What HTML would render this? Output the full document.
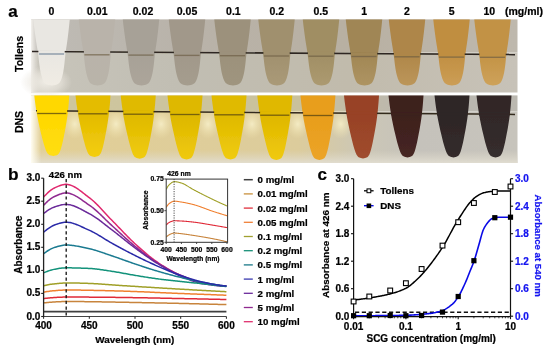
<!DOCTYPE html>
<html><head><meta charset="utf-8"><style>
html,body{margin:0;padding:0;background:#fff;width:550px;height:352px;overflow:hidden}
svg{will-change:transform}
svg{display:block}
text{font-family:"Liberation Sans", sans-serif;font-weight:bold;stroke-width:0.22px}
</style></head><body>
<svg width="550" height="352" viewBox="0 0 550 352" font-family='"Liberation Sans", sans-serif' font-weight="bold">
<defs><filter id="soft2" x="-2%" y="-50%" width="104%" height="200%"><feGaussianBlur stdDeviation="0.35"/></filter><filter id="soft" x="-2%" y="-5%" width="104%" height="110%"><feGaussianBlur stdDeviation="0.6"/></filter><linearGradient id="tbgT" x1="0" y1="0" x2="1" y2="0"><stop offset="0" stop-color="#bfbcb6"/><stop offset="0.3" stop-color="#b9b3aa"/><stop offset="0.65" stop-color="#b8b0a2"/><stop offset="1" stop-color="#beb8ad"/></linearGradient><linearGradient id="tbgB" x1="0" y1="0" x2="1" y2="0"><stop offset="0" stop-color="#c8c5bb"/><stop offset="0.3" stop-color="#c1beb3"/><stop offset="0.65" stop-color="#c1bbac"/><stop offset="1" stop-color="#c7c2b8"/></linearGradient><linearGradient id="tbgL" x1="0" y1="0" x2="1" y2="0"><stop offset="0" stop-color="#f4f2ee" stop-opacity="1"/><stop offset="1" stop-color="#e8e4de" stop-opacity="0"/></linearGradient><radialGradient id="wglow" cx="0.5" cy="0.5" r="0.5"><stop offset="0" stop-color="#f2efe8" stop-opacity="0.95"/><stop offset="0.6" stop-color="#ece8e0" stop-opacity="0.6"/><stop offset="1" stop-color="#e8e4dc" stop-opacity="0"/></radialGradient><linearGradient id="tg0" x1="0" y1="0" x2="0" y2="1"><stop offset="0" stop-color="#e9e7e2"/><stop offset="0.5" stop-color="#e9e7e2"/><stop offset="1" stop-color="#f0ece4"/></linearGradient><linearGradient id="tg1" x1="0" y1="0" x2="0" y2="1"><stop offset="0" stop-color="#b9b3aa"/><stop offset="0.5" stop-color="#b9b3aa"/><stop offset="1" stop-color="#b9b4a9"/></linearGradient><linearGradient id="tg2" x1="0" y1="0" x2="0" y2="1"><stop offset="0" stop-color="#a7a197"/><stop offset="0.5" stop-color="#a7a197"/><stop offset="1" stop-color="#aca59a"/></linearGradient><linearGradient id="tg3" x1="0" y1="0" x2="0" y2="1"><stop offset="0" stop-color="#a1988a"/><stop offset="0.5" stop-color="#a1988a"/><stop offset="1" stop-color="#a59d8e"/></linearGradient><linearGradient id="tg4" x1="0" y1="0" x2="0" y2="1"><stop offset="0" stop-color="#9c917b"/><stop offset="0.5" stop-color="#9c917b"/><stop offset="1" stop-color="#9f957f"/></linearGradient><linearGradient id="tg5" x1="0" y1="0" x2="0" y2="1"><stop offset="0" stop-color="#a0906e"/><stop offset="0.5" stop-color="#a0906e"/><stop offset="1" stop-color="#aa9a78"/></linearGradient><linearGradient id="tg6" x1="0" y1="0" x2="0" y2="1"><stop offset="0" stop-color="#a08e64"/><stop offset="0.5" stop-color="#a08e64"/><stop offset="1" stop-color="#ac9a70"/></linearGradient><linearGradient id="tg7" x1="0" y1="0" x2="0" y2="1"><stop offset="0" stop-color="#a08654"/><stop offset="0.5" stop-color="#a08654"/><stop offset="1" stop-color="#ae9462"/></linearGradient><linearGradient id="tg8" x1="0" y1="0" x2="0" y2="1"><stop offset="0" stop-color="#ae8648"/><stop offset="0.5" stop-color="#ae8648"/><stop offset="1" stop-color="#bc965a"/></linearGradient><linearGradient id="tg9" x1="0" y1="0" x2="0" y2="1"><stop offset="0" stop-color="#c08e40"/><stop offset="0.5" stop-color="#c08e40"/><stop offset="1" stop-color="#cc9e56"/></linearGradient><linearGradient id="tg10" x1="0" y1="0" x2="0" y2="1"><stop offset="0" stop-color="#c29244"/><stop offset="0.5" stop-color="#c29244"/><stop offset="1" stop-color="#cea25a"/></linearGradient><linearGradient id="dbgT" x1="0" y1="0" x2="1" y2="0"><stop offset="0" stop-color="#cfc79f"/><stop offset="0.55" stop-color="#c9c19c"/><stop offset="0.68" stop-color="#c1bba9"/><stop offset="0.8" stop-color="#b9b6af"/><stop offset="1" stop-color="#bbb8b0"/></linearGradient><linearGradient id="dbgB" x1="0" y1="0" x2="1" y2="0"><stop offset="0" stop-color="#e2cf97"/><stop offset="0.55" stop-color="#dccc9c"/><stop offset="0.68" stop-color="#ccc7b6"/><stop offset="0.8" stop-color="#c5c2bb"/><stop offset="1" stop-color="#c7c4bc"/></linearGradient><linearGradient id="dbgS" x1="0" y1="0" x2="0" y2="1"><stop offset="0" stop-color="#dcd7c7" stop-opacity="0"/><stop offset="1" stop-color="#e3dfd3" stop-opacity="0.9"/></linearGradient><radialGradient id="glow" cx="0.5" cy="0.5" r="0.5"><stop offset="0" stop-color="#f6eec8" stop-opacity="0.9"/><stop offset="1" stop-color="#f1e4b0" stop-opacity="0"/></radialGradient><linearGradient id="dbgL" x1="0" y1="0" x2="1" y2="0"><stop offset="0" stop-color="#fffdf2" stop-opacity="1"/><stop offset="1" stop-color="#fffdf2" stop-opacity="0"/></linearGradient><linearGradient id="dg0" x1="0" y1="0" x2="0" y2="1"><stop offset="0" stop-color="#ffd800"/><stop offset="0.35" stop-color="#ffd800"/><stop offset="1" stop-color="#ffde14"/></linearGradient><linearGradient id="dg1" x1="0" y1="0" x2="0" y2="1"><stop offset="0" stop-color="#e4bc00"/><stop offset="0.35" stop-color="#e4bc00"/><stop offset="1" stop-color="#f4ce10"/></linearGradient><linearGradient id="dg2" x1="0" y1="0" x2="0" y2="1"><stop offset="0" stop-color="#e0ba00"/><stop offset="0.35" stop-color="#e0ba00"/><stop offset="1" stop-color="#f0cc0e"/></linearGradient><linearGradient id="dg3" x1="0" y1="0" x2="0" y2="1"><stop offset="0" stop-color="#deb800"/><stop offset="0.35" stop-color="#deb800"/><stop offset="1" stop-color="#f0ca0e"/></linearGradient><linearGradient id="dg4" x1="0" y1="0" x2="0" y2="1"><stop offset="0" stop-color="#e0ba00"/><stop offset="0.35" stop-color="#e0ba00"/><stop offset="1" stop-color="#f0cc0e"/></linearGradient><linearGradient id="dg5" x1="0" y1="0" x2="0" y2="1"><stop offset="0" stop-color="#e0b800"/><stop offset="0.35" stop-color="#e0b800"/><stop offset="1" stop-color="#f0ca0e"/></linearGradient><linearGradient id="dg6" x1="0" y1="0" x2="0" y2="1"><stop offset="0" stop-color="#e89e1c"/><stop offset="0.35" stop-color="#e89e1c"/><stop offset="1" stop-color="#eca428"/></linearGradient><linearGradient id="dg7" x1="0" y1="0" x2="0" y2="1"><stop offset="0" stop-color="#984226"/><stop offset="0.35" stop-color="#984226"/><stop offset="1" stop-color="#a04c2e"/></linearGradient><linearGradient id="dg8" x1="0" y1="0" x2="0" y2="1"><stop offset="0" stop-color="#3e201e"/><stop offset="0.35" stop-color="#3e201e"/><stop offset="1" stop-color="#462622"/></linearGradient><linearGradient id="dg9" x1="0" y1="0" x2="0" y2="1"><stop offset="0" stop-color="#2e2626"/><stop offset="0.35" stop-color="#2e2626"/><stop offset="1" stop-color="#342c2c"/></linearGradient><linearGradient id="dg10" x1="0" y1="0" x2="0" y2="1"><stop offset="0" stop-color="#302828"/><stop offset="0.35" stop-color="#302828"/><stop offset="1" stop-color="#362e2e"/></linearGradient></defs>
<rect width="550" height="352" fill="#fff"/>
<g filter="url(#soft)"><rect x="31" y="19.4" width="486.5" height="33" fill="url(#tbgT)"/><rect x="31" y="52.4" width="486.5" height="40.1" fill="url(#tbgB)"/><rect x="31" y="19.4" width="8" height="73.1" fill="url(#tbgL)"/><ellipse cx="46" cy="82" rx="26" ry="16" fill="url(#wglow)"/><path d="M69.75,19.40 L69.44,22.53 L69.12,25.66 L68.78,28.79 L68.42,31.92 L68.05,35.06 L67.66,38.19 L67.25,41.32 L66.80,44.45 L66.32,47.58 L65.86,50.71 L65.44,53.84 L65.08,56.97 L64.77,60.10 L64.46,63.23 L64.10,66.37 L63.65,69.50 L63.10,72.63 L62.38,75.76 L61.44,78.89 L61.27,79.36 L61.09,79.83 L60.89,80.31 L60.66,80.78 L60.41,81.25 L60.12,81.72 L59.80,82.19 L59.44,82.67 L59.03,83.14 L58.53,83.61 L57.85,84.08 L56.91,84.56 L55.38,85.03 L52.00,85.50 L52.00,85.50 L48.61,85.03 L47.07,84.56 L46.13,84.08 L45.45,83.61 L44.94,83.14 L44.52,82.67 L44.15,82.19 L43.82,81.72 L43.53,81.25 L43.27,80.78 L43.04,80.31 L42.83,79.83 L42.64,79.36 L42.46,78.89 L41.47,75.76 L40.71,72.63 L40.10,69.50 L39.61,66.37 L39.20,63.23 L38.84,60.10 L38.48,56.97 L38.08,53.84 L37.61,50.71 L37.10,47.58 L36.58,44.45 L36.08,41.32 L35.63,38.19 L35.19,35.06 L34.77,31.92 L34.36,28.79 L33.97,25.66 L33.60,22.53 L33.25,19.40 Z" fill="url(#tg0)"/><path d="M115.25,19.40 L114.94,22.53 L114.62,25.66 L114.28,28.79 L113.92,31.92 L113.55,35.06 L113.16,38.19 L112.75,41.32 L112.30,44.45 L111.82,47.58 L111.36,50.71 L110.94,53.84 L110.58,56.97 L110.27,60.10 L109.96,63.23 L109.60,66.37 L109.15,69.50 L108.60,72.63 L107.88,75.76 L106.94,78.89 L106.77,79.36 L106.59,79.83 L106.39,80.31 L106.16,80.78 L105.91,81.25 L105.62,81.72 L105.30,82.19 L104.94,82.67 L104.53,83.14 L104.03,83.61 L103.35,84.08 L102.41,84.56 L100.88,85.03 L97.50,85.50 L97.50,85.50 L94.11,85.03 L92.57,84.56 L91.63,84.08 L90.95,83.61 L90.44,83.14 L90.02,82.67 L89.65,82.19 L89.32,81.72 L89.03,81.25 L88.77,80.78 L88.54,80.31 L88.33,79.83 L88.14,79.36 L87.96,78.89 L86.97,75.76 L86.21,72.63 L85.60,69.50 L85.11,66.37 L84.70,63.23 L84.34,60.10 L83.98,56.97 L83.58,53.84 L83.11,50.71 L82.60,47.58 L82.08,44.45 L81.58,41.32 L81.13,38.19 L80.69,35.06 L80.27,31.92 L79.86,28.79 L79.47,25.66 L79.10,22.53 L78.75,19.40 Z" fill="url(#tg1)"/><path d="M159.25,19.40 L158.94,22.53 L158.62,25.66 L158.28,28.79 L157.92,31.92 L157.55,35.06 L157.16,38.19 L156.75,41.32 L156.30,44.45 L155.82,47.58 L155.36,50.71 L154.94,53.84 L154.58,56.97 L154.27,60.10 L153.96,63.23 L153.60,66.37 L153.15,69.50 L152.60,72.63 L151.88,75.76 L150.94,78.89 L150.77,79.36 L150.59,79.83 L150.39,80.31 L150.16,80.78 L149.91,81.25 L149.62,81.72 L149.30,82.19 L148.94,82.67 L148.53,83.14 L148.03,83.61 L147.35,84.08 L146.41,84.56 L144.88,85.03 L141.50,85.50 L141.50,85.50 L138.11,85.03 L136.57,84.56 L135.63,84.08 L134.95,83.61 L134.44,83.14 L134.02,82.67 L133.65,82.19 L133.32,81.72 L133.03,81.25 L132.77,80.78 L132.54,80.31 L132.33,79.83 L132.14,79.36 L131.96,78.89 L130.97,75.76 L130.21,72.63 L129.60,69.50 L129.11,66.37 L128.70,63.23 L128.34,60.10 L127.98,56.97 L127.58,53.84 L127.11,50.71 L126.60,47.58 L126.08,44.45 L125.58,41.32 L125.13,38.19 L124.69,35.06 L124.27,31.92 L123.86,28.79 L123.47,25.66 L123.10,22.53 L122.75,19.40 Z" fill="url(#tg2)"/><path d="M205.25,19.40 L204.94,22.53 L204.62,25.66 L204.28,28.79 L203.92,31.92 L203.55,35.06 L203.16,38.19 L202.75,41.32 L202.30,44.45 L201.82,47.58 L201.36,50.71 L200.94,53.84 L200.58,56.97 L200.27,60.10 L199.96,63.23 L199.60,66.37 L199.15,69.50 L198.60,72.63 L197.88,75.76 L196.94,78.89 L196.77,79.36 L196.59,79.83 L196.39,80.31 L196.16,80.78 L195.91,81.25 L195.62,81.72 L195.30,82.19 L194.94,82.67 L194.53,83.14 L194.03,83.61 L193.35,84.08 L192.41,84.56 L190.88,85.03 L187.50,85.50 L187.50,85.50 L184.11,85.03 L182.57,84.56 L181.63,84.08 L180.95,83.61 L180.44,83.14 L180.02,82.67 L179.65,82.19 L179.32,81.72 L179.03,81.25 L178.77,80.78 L178.54,80.31 L178.33,79.83 L178.14,79.36 L177.96,78.89 L176.97,75.76 L176.21,72.63 L175.60,69.50 L175.11,66.37 L174.70,63.23 L174.34,60.10 L173.98,56.97 L173.58,53.84 L173.11,50.71 L172.60,47.58 L172.08,44.45 L171.58,41.32 L171.13,38.19 L170.69,35.06 L170.27,31.92 L169.86,28.79 L169.47,25.66 L169.10,22.53 L168.75,19.40 Z" fill="url(#tg3)"/><path d="M250.75,19.40 L250.44,22.53 L250.12,25.66 L249.78,28.79 L249.42,31.92 L249.05,35.06 L248.66,38.19 L248.25,41.32 L247.80,44.45 L247.32,47.58 L246.86,50.71 L246.44,53.84 L246.08,56.97 L245.77,60.10 L245.46,63.23 L245.10,66.37 L244.65,69.50 L244.10,72.63 L243.38,75.76 L242.44,78.89 L242.27,79.36 L242.09,79.83 L241.89,80.31 L241.66,80.78 L241.41,81.25 L241.12,81.72 L240.80,82.19 L240.44,82.67 L240.03,83.14 L239.53,83.61 L238.85,84.08 L237.91,84.56 L236.38,85.03 L233.00,85.50 L233.00,85.50 L229.61,85.03 L228.07,84.56 L227.13,84.08 L226.45,83.61 L225.94,83.14 L225.52,82.67 L225.15,82.19 L224.82,81.72 L224.53,81.25 L224.27,80.78 L224.04,80.31 L223.83,79.83 L223.64,79.36 L223.46,78.89 L222.47,75.76 L221.71,72.63 L221.10,69.50 L220.61,66.37 L220.20,63.23 L219.84,60.10 L219.48,56.97 L219.08,53.84 L218.61,50.71 L218.10,47.58 L217.58,44.45 L217.08,41.32 L216.63,38.19 L216.19,35.06 L215.77,31.92 L215.36,28.79 L214.97,25.66 L214.60,22.53 L214.25,19.40 Z" fill="url(#tg4)"/><path d="M294.75,19.40 L294.44,22.53 L294.12,25.66 L293.78,28.79 L293.42,31.92 L293.05,35.06 L292.66,38.19 L292.25,41.32 L291.80,44.45 L291.32,47.58 L290.86,50.71 L290.44,53.84 L290.08,56.97 L289.77,60.10 L289.46,63.23 L289.10,66.37 L288.65,69.50 L288.10,72.63 L287.38,75.76 L286.44,78.89 L286.27,79.36 L286.09,79.83 L285.89,80.31 L285.66,80.78 L285.41,81.25 L285.12,81.72 L284.80,82.19 L284.44,82.67 L284.03,83.14 L283.53,83.61 L282.85,84.08 L281.91,84.56 L280.38,85.03 L277.00,85.50 L277.00,85.50 L273.61,85.03 L272.07,84.56 L271.13,84.08 L270.45,83.61 L269.94,83.14 L269.52,82.67 L269.15,82.19 L268.82,81.72 L268.53,81.25 L268.27,80.78 L268.04,80.31 L267.83,79.83 L267.64,79.36 L267.46,78.89 L266.47,75.76 L265.71,72.63 L265.10,69.50 L264.61,66.37 L264.20,63.23 L263.84,60.10 L263.48,56.97 L263.08,53.84 L262.61,50.71 L262.10,47.58 L261.58,44.45 L261.08,41.32 L260.63,38.19 L260.19,35.06 L259.77,31.92 L259.36,28.79 L258.97,25.66 L258.60,22.53 L258.25,19.40 Z" fill="url(#tg5)"/><path d="M339.25,19.40 L338.94,22.53 L338.62,25.66 L338.28,28.79 L337.92,31.92 L337.55,35.06 L337.16,38.19 L336.75,41.32 L336.30,44.45 L335.82,47.58 L335.36,50.71 L334.94,53.84 L334.58,56.97 L334.27,60.10 L333.96,63.23 L333.60,66.37 L333.15,69.50 L332.60,72.63 L331.88,75.76 L330.94,78.89 L330.77,79.36 L330.59,79.83 L330.39,80.31 L330.16,80.78 L329.91,81.25 L329.62,81.72 L329.30,82.19 L328.94,82.67 L328.53,83.14 L328.03,83.61 L327.35,84.08 L326.41,84.56 L324.88,85.03 L321.50,85.50 L321.50,85.50 L318.11,85.03 L316.57,84.56 L315.63,84.08 L314.95,83.61 L314.44,83.14 L314.02,82.67 L313.65,82.19 L313.32,81.72 L313.03,81.25 L312.77,80.78 L312.54,80.31 L312.33,79.83 L312.14,79.36 L311.96,78.89 L310.97,75.76 L310.21,72.63 L309.60,69.50 L309.11,66.37 L308.70,63.23 L308.34,60.10 L307.98,56.97 L307.58,53.84 L307.11,50.71 L306.60,47.58 L306.08,44.45 L305.58,41.32 L305.13,38.19 L304.69,35.06 L304.27,31.92 L303.86,28.79 L303.47,25.66 L303.10,22.53 L302.75,19.40 Z" fill="url(#tg6)"/><path d="M382.25,19.40 L381.94,22.53 L381.62,25.66 L381.28,28.79 L380.92,31.92 L380.55,35.06 L380.16,38.19 L379.75,41.32 L379.30,44.45 L378.82,47.58 L378.36,50.71 L377.94,53.84 L377.58,56.97 L377.27,60.10 L376.96,63.23 L376.60,66.37 L376.15,69.50 L375.60,72.63 L374.88,75.76 L373.94,78.89 L373.77,79.36 L373.59,79.83 L373.39,80.31 L373.16,80.78 L372.91,81.25 L372.62,81.72 L372.30,82.19 L371.94,82.67 L371.53,83.14 L371.03,83.61 L370.35,84.08 L369.41,84.56 L367.88,85.03 L364.50,85.50 L364.50,85.50 L361.11,85.03 L359.57,84.56 L358.63,84.08 L357.95,83.61 L357.44,83.14 L357.02,82.67 L356.65,82.19 L356.32,81.72 L356.03,81.25 L355.77,80.78 L355.54,80.31 L355.33,79.83 L355.14,79.36 L354.96,78.89 L353.97,75.76 L353.21,72.63 L352.60,69.50 L352.11,66.37 L351.70,63.23 L351.34,60.10 L350.98,56.97 L350.58,53.84 L350.11,50.71 L349.60,47.58 L349.08,44.45 L348.58,41.32 L348.13,38.19 L347.69,35.06 L347.27,31.92 L346.86,28.79 L346.47,25.66 L346.10,22.53 L345.75,19.40 Z" fill="url(#tg7)"/><path d="M425.25,19.40 L424.94,22.53 L424.62,25.66 L424.28,28.79 L423.92,31.92 L423.55,35.06 L423.16,38.19 L422.75,41.32 L422.30,44.45 L421.82,47.58 L421.36,50.71 L420.94,53.84 L420.58,56.97 L420.27,60.10 L419.96,63.23 L419.60,66.37 L419.15,69.50 L418.60,72.63 L417.88,75.76 L416.94,78.89 L416.77,79.36 L416.59,79.83 L416.39,80.31 L416.16,80.78 L415.91,81.25 L415.62,81.72 L415.30,82.19 L414.94,82.67 L414.53,83.14 L414.03,83.61 L413.35,84.08 L412.41,84.56 L410.88,85.03 L407.50,85.50 L407.50,85.50 L404.11,85.03 L402.57,84.56 L401.63,84.08 L400.95,83.61 L400.44,83.14 L400.02,82.67 L399.65,82.19 L399.32,81.72 L399.03,81.25 L398.77,80.78 L398.54,80.31 L398.33,79.83 L398.14,79.36 L397.96,78.89 L396.97,75.76 L396.21,72.63 L395.60,69.50 L395.11,66.37 L394.70,63.23 L394.34,60.10 L393.98,56.97 L393.58,53.84 L393.11,50.71 L392.60,47.58 L392.08,44.45 L391.58,41.32 L391.13,38.19 L390.69,35.06 L390.27,31.92 L389.86,28.79 L389.47,25.66 L389.10,22.53 L388.75,19.40 Z" fill="url(#tg8)"/><path d="M469.75,19.40 L469.44,22.53 L469.12,25.66 L468.78,28.79 L468.42,31.92 L468.05,35.06 L467.66,38.19 L467.25,41.32 L466.80,44.45 L466.32,47.58 L465.86,50.71 L465.44,53.84 L465.08,56.97 L464.77,60.10 L464.46,63.23 L464.10,66.37 L463.65,69.50 L463.10,72.63 L462.38,75.76 L461.44,78.89 L461.27,79.36 L461.09,79.83 L460.89,80.31 L460.66,80.78 L460.41,81.25 L460.12,81.72 L459.80,82.19 L459.44,82.67 L459.03,83.14 L458.53,83.61 L457.85,84.08 L456.91,84.56 L455.38,85.03 L452.00,85.50 L452.00,85.50 L448.61,85.03 L447.07,84.56 L446.13,84.08 L445.45,83.61 L444.94,83.14 L444.52,82.67 L444.15,82.19 L443.82,81.72 L443.53,81.25 L443.27,80.78 L443.04,80.31 L442.83,79.83 L442.64,79.36 L442.46,78.89 L441.47,75.76 L440.71,72.63 L440.10,69.50 L439.61,66.37 L439.20,63.23 L438.84,60.10 L438.48,56.97 L438.08,53.84 L437.61,50.71 L437.10,47.58 L436.58,44.45 L436.08,41.32 L435.63,38.19 L435.19,35.06 L434.77,31.92 L434.36,28.79 L433.97,25.66 L433.60,22.53 L433.25,19.40 Z" fill="url(#tg9)"/><path d="M510.75,19.40 L510.44,22.53 L510.12,25.66 L509.78,28.79 L509.42,31.92 L509.05,35.06 L508.66,38.19 L508.25,41.32 L507.80,44.45 L507.32,47.58 L506.86,50.71 L506.44,53.84 L506.08,56.97 L505.77,60.10 L505.46,63.23 L505.10,66.37 L504.65,69.50 L504.10,72.63 L503.38,75.76 L502.44,78.89 L502.27,79.36 L502.09,79.83 L501.89,80.31 L501.66,80.78 L501.41,81.25 L501.12,81.72 L500.80,82.19 L500.44,82.67 L500.03,83.14 L499.53,83.61 L498.85,84.08 L497.91,84.56 L496.38,85.03 L493.00,85.50 L493.00,85.50 L489.61,85.03 L488.07,84.56 L487.13,84.08 L486.45,83.61 L485.94,83.14 L485.52,82.67 L485.15,82.19 L484.82,81.72 L484.53,81.25 L484.27,80.78 L484.04,80.31 L483.83,79.83 L483.64,79.36 L483.46,78.89 L482.47,75.76 L481.71,72.63 L481.10,69.50 L480.61,66.37 L480.20,63.23 L479.84,60.10 L479.48,56.97 L479.08,53.84 L478.61,50.71 L478.10,47.58 L477.58,44.45 L477.08,41.32 L476.63,38.19 L476.19,35.06 L475.77,31.92 L475.36,28.79 L474.97,25.66 L474.60,22.53 L474.25,19.40 Z" fill="url(#tg10)"/><rect x="31" y="95.4" width="486.5" height="16" fill="url(#dbgT)"/><rect x="31" y="111.4" width="486.5" height="51.6" fill="url(#dbgB)"/><rect x="31" y="150" width="486.5" height="13" fill="url(#dbgS)"/><ellipse cx="74.8" cy="124" rx="12" ry="15" fill="url(#glow)"/><ellipse cx="116.0" cy="124" rx="12" ry="15" fill="url(#glow)"/><ellipse cx="161.2" cy="124" rx="12" ry="15" fill="url(#glow)"/><ellipse cx="208.0" cy="124" rx="12" ry="15" fill="url(#glow)"/><ellipse cx="252.0" cy="124" rx="12" ry="15" fill="url(#glow)"/><ellipse cx="297.8" cy="124" rx="12" ry="15" fill="url(#glow)"/><ellipse cx="340.9" cy="124" rx="12" ry="15" fill="url(#glow)"/><rect x="31" y="95.4" width="10" height="67.6" fill="url(#dbgL)"/><path d="M69.30,95.40 L69.12,98.27 L68.91,101.14 L68.67,104.01 L68.40,106.88 L68.11,109.75 L67.79,112.62 L67.44,115.49 L67.05,118.36 L66.62,121.23 L66.16,124.11 L65.66,126.98 L65.13,129.85 L64.58,132.72 L64.01,135.59 L63.43,138.46 L62.83,141.33 L62.17,144.20 L61.41,147.07 L60.53,149.94 L60.38,150.37 L60.23,150.81 L60.05,151.24 L59.87,151.67 L59.66,152.10 L59.43,152.54 L59.17,152.97 L58.89,153.40 L58.56,153.84 L58.13,154.27 L57.58,154.70 L56.87,155.13 L55.38,155.57 L53.30,156.00 L53.30,156.00 L51.20,155.57 L49.69,155.13 L48.95,154.70 L48.38,154.27 L47.94,153.84 L47.58,153.40 L47.27,152.97 L47.00,152.54 L46.75,152.10 L46.52,151.67 L46.31,151.24 L46.12,150.81 L45.94,150.37 L45.77,149.94 L44.74,147.07 L43.84,144.20 L43.04,141.33 L42.30,138.46 L41.58,135.59 L40.87,132.72 L40.17,129.85 L39.51,126.98 L38.86,124.11 L38.26,121.23 L37.68,118.36 L37.15,115.49 L36.67,112.62 L36.20,109.75 L35.77,106.88 L35.35,104.01 L34.97,101.14 L34.62,98.27 L34.30,95.40 Z" fill="url(#dg0)"/><path d="M110.50,95.40 L110.32,98.32 L110.11,101.24 L109.87,104.15 L109.60,107.07 L109.31,109.99 L108.99,112.91 L108.64,115.83 L108.25,118.74 L107.82,121.66 L107.36,124.58 L106.86,127.50 L106.33,130.41 L105.78,133.33 L105.21,136.25 L104.63,139.17 L104.03,142.09 L103.37,145.00 L102.61,147.92 L101.73,150.84 L101.58,151.28 L101.43,151.72 L101.25,152.16 L101.07,152.60 L100.86,153.04 L100.63,153.48 L100.38,153.92 L100.09,154.36 L99.76,154.80 L99.33,155.24 L98.78,155.68 L98.07,156.12 L96.58,156.56 L94.50,157.00 L94.50,157.00 L92.40,156.56 L90.89,156.12 L90.15,155.68 L89.58,155.24 L89.14,154.80 L88.78,154.36 L88.47,153.92 L88.20,153.48 L87.95,153.04 L87.72,152.60 L87.51,152.16 L87.32,151.72 L87.14,151.28 L86.97,150.84 L85.94,147.92 L85.04,145.00 L84.24,142.09 L83.50,139.17 L82.78,136.25 L82.07,133.33 L81.37,130.41 L80.71,127.50 L80.06,124.58 L79.46,121.66 L78.88,118.74 L78.35,115.83 L77.87,112.91 L77.40,109.99 L76.97,107.07 L76.55,104.15 L76.17,101.24 L75.82,98.32 L75.50,95.40 Z" fill="url(#dg1)"/><path d="M155.70,95.40 L155.52,98.40 L155.31,101.40 L155.07,104.40 L154.80,107.39 L154.51,110.39 L154.19,113.39 L153.84,116.39 L153.45,119.39 L153.02,122.39 L152.56,125.38 L152.06,128.38 L151.53,131.38 L150.98,134.38 L150.41,137.38 L149.83,140.38 L149.23,143.37 L148.57,146.37 L147.81,149.37 L146.93,152.37 L146.78,152.82 L146.63,153.27 L146.45,153.73 L146.27,154.18 L146.06,154.63 L145.83,155.08 L145.57,155.53 L145.29,155.99 L144.96,156.44 L144.53,156.89 L143.98,157.34 L143.27,157.80 L141.78,158.25 L139.70,158.70 L139.70,158.70 L137.60,158.25 L136.09,157.80 L135.35,157.34 L134.78,156.89 L134.34,156.44 L133.98,155.99 L133.68,155.53 L133.40,155.08 L133.15,154.63 L132.92,154.18 L132.71,153.73 L132.52,153.27 L132.34,152.82 L132.17,152.37 L131.14,149.37 L130.24,146.37 L129.44,143.37 L128.70,140.38 L127.98,137.38 L127.27,134.38 L126.57,131.38 L125.91,128.38 L125.26,125.38 L124.66,122.39 L124.08,119.39 L123.55,116.39 L123.07,113.39 L122.60,110.39 L122.17,107.39 L121.75,104.40 L121.37,101.40 L121.02,98.40 L120.70,95.40 Z" fill="url(#dg2)"/><path d="M202.50,95.40 L202.32,98.44 L202.11,101.47 L201.87,104.51 L201.60,107.55 L201.31,110.58 L200.99,113.62 L200.64,116.65 L200.25,119.69 L199.82,122.73 L199.36,125.76 L198.86,128.80 L198.33,131.84 L197.78,134.87 L197.21,137.91 L196.63,140.94 L196.03,143.98 L195.37,147.02 L194.61,150.05 L193.73,153.09 L193.58,153.55 L193.43,154.01 L193.25,154.46 L193.07,154.92 L192.86,155.38 L192.63,155.84 L192.38,156.29 L192.09,156.75 L191.76,157.21 L191.33,157.67 L190.78,158.13 L190.07,158.58 L188.58,159.04 L186.50,159.50 L186.50,159.50 L184.40,159.04 L182.89,158.58 L182.15,158.13 L181.58,157.67 L181.14,157.21 L180.78,156.75 L180.48,156.29 L180.20,155.84 L179.95,155.38 L179.72,154.92 L179.51,154.46 L179.32,154.01 L179.14,153.55 L178.97,153.09 L177.94,150.05 L177.04,147.02 L176.24,143.98 L175.50,140.94 L174.78,137.91 L174.07,134.87 L173.37,131.84 L172.71,128.80 L172.06,125.76 L171.46,122.73 L170.88,119.69 L170.35,116.65 L169.87,113.62 L169.40,110.58 L168.97,107.55 L168.55,104.51 L168.17,101.47 L167.82,98.44 L167.50,95.40 Z" fill="url(#dg3)"/><path d="M246.50,95.40 L246.32,98.44 L246.11,101.47 L245.87,104.51 L245.60,107.55 L245.31,110.58 L244.99,113.62 L244.64,116.65 L244.25,119.69 L243.82,122.73 L243.36,125.76 L242.86,128.80 L242.33,131.84 L241.78,134.87 L241.21,137.91 L240.63,140.94 L240.03,143.98 L239.37,147.02 L238.61,150.05 L237.73,153.09 L237.58,153.55 L237.43,154.01 L237.25,154.46 L237.07,154.92 L236.86,155.38 L236.63,155.84 L236.38,156.29 L236.09,156.75 L235.76,157.21 L235.33,157.67 L234.78,158.13 L234.07,158.58 L232.58,159.04 L230.50,159.50 L230.50,159.50 L228.40,159.04 L226.89,158.58 L226.15,158.13 L225.58,157.67 L225.14,157.21 L224.78,156.75 L224.48,156.29 L224.20,155.84 L223.95,155.38 L223.72,154.92 L223.51,154.46 L223.32,154.01 L223.14,153.55 L222.97,153.09 L221.94,150.05 L221.04,147.02 L220.24,143.98 L219.50,140.94 L218.78,137.91 L218.07,134.87 L217.37,131.84 L216.71,128.80 L216.06,125.76 L215.46,122.73 L214.88,119.69 L214.35,116.65 L213.87,113.62 L213.40,110.58 L212.97,107.55 L212.55,104.51 L212.17,101.47 L211.82,98.44 L211.50,95.40 Z" fill="url(#dg4)"/><path d="M292.30,95.40 L292.12,98.46 L291.91,101.52 L291.67,104.58 L291.40,107.64 L291.11,110.70 L290.79,113.76 L290.44,116.82 L290.05,119.88 L289.62,122.94 L289.16,126.00 L288.66,129.06 L288.13,132.12 L287.58,135.18 L287.01,138.24 L286.43,141.30 L285.83,144.36 L285.17,147.42 L284.41,150.48 L283.53,153.54 L283.38,154.00 L283.23,154.46 L283.05,154.92 L282.87,155.39 L282.66,155.85 L282.43,156.31 L282.18,156.77 L281.89,157.23 L281.56,157.69 L281.13,158.15 L280.58,158.62 L279.87,159.08 L278.38,159.54 L276.30,160.00 L276.30,160.00 L274.20,159.54 L272.69,159.08 L271.95,158.62 L271.38,158.15 L270.94,157.69 L270.58,157.23 L270.28,156.77 L270.00,156.31 L269.75,155.85 L269.52,155.39 L269.31,154.92 L269.12,154.46 L268.94,154.00 L268.77,153.54 L267.74,150.48 L266.84,147.42 L266.04,144.36 L265.30,141.30 L264.58,138.24 L263.87,135.18 L263.17,132.12 L262.51,129.06 L261.86,126.00 L261.26,122.94 L260.68,119.88 L260.15,116.82 L259.67,113.76 L259.20,110.70 L258.77,107.64 L258.35,104.58 L257.97,101.52 L257.62,98.46 L257.30,95.40 Z" fill="url(#dg5)"/><path d="M335.40,95.40 L335.22,98.46 L335.01,101.52 L334.77,104.58 L334.50,107.64 L334.21,110.70 L333.89,113.76 L333.54,116.82 L333.15,119.88 L332.72,122.94 L332.26,126.00 L331.76,129.06 L331.23,132.12 L330.68,135.18 L330.11,138.24 L329.53,141.30 L328.93,144.36 L328.27,147.42 L327.51,150.48 L326.63,153.54 L326.48,154.00 L326.33,154.46 L326.15,154.92 L325.97,155.39 L325.76,155.85 L325.53,156.31 L325.27,156.77 L324.99,157.23 L324.66,157.69 L324.23,158.15 L323.68,158.62 L322.97,159.08 L321.48,159.54 L319.40,160.00 L319.40,160.00 L317.30,159.54 L315.79,159.08 L315.05,158.62 L314.48,158.15 L314.04,157.69 L313.68,157.23 L313.38,156.77 L313.10,156.31 L312.85,155.85 L312.62,155.39 L312.41,154.92 L312.22,154.46 L312.04,154.00 L311.87,153.54 L310.84,150.48 L309.94,147.42 L309.14,144.36 L308.40,141.30 L307.68,138.24 L306.97,135.18 L306.27,132.12 L305.61,129.06 L304.96,126.00 L304.36,122.94 L303.78,119.88 L303.25,116.82 L302.77,113.76 L302.30,110.70 L301.87,107.64 L301.45,104.58 L301.07,101.52 L300.72,98.46 L300.40,95.40 Z" fill="url(#dg6)"/><path d="M379.00,95.40 L378.82,98.39 L378.61,101.38 L378.37,104.37 L378.10,107.36 L377.81,110.34 L377.49,113.33 L377.14,116.32 L376.75,119.31 L376.32,122.30 L375.86,125.29 L375.36,128.28 L374.83,131.27 L374.28,134.26 L373.71,137.25 L373.13,140.23 L372.53,143.22 L371.87,146.21 L371.11,149.20 L370.23,152.19 L370.08,152.64 L369.93,153.09 L369.75,153.54 L369.57,153.99 L369.36,154.44 L369.13,154.89 L368.88,155.34 L368.59,155.80 L368.26,156.25 L367.83,156.70 L367.28,157.15 L366.57,157.60 L365.08,158.05 L363.00,158.50 L363.00,158.50 L360.90,158.05 L359.39,157.60 L358.65,157.15 L358.08,156.70 L357.64,156.25 L357.28,155.80 L356.98,155.34 L356.70,154.89 L356.45,154.44 L356.22,153.99 L356.01,153.54 L355.82,153.09 L355.64,152.64 L355.47,152.19 L354.44,149.20 L353.54,146.21 L352.74,143.22 L352.00,140.23 L351.28,137.25 L350.57,134.26 L349.87,131.27 L349.21,128.28 L348.56,125.29 L347.96,122.30 L347.38,119.31 L346.85,116.32 L346.37,113.33 L345.90,110.34 L345.47,107.36 L345.05,104.37 L344.67,101.38 L344.32,98.39 L344.00,95.40 Z" fill="url(#dg7)"/><path d="M423.50,95.40 L423.32,98.34 L423.11,101.27 L422.87,104.21 L422.60,107.15 L422.31,110.08 L421.99,113.02 L421.64,115.96 L421.25,118.89 L420.82,121.83 L420.36,124.77 L419.86,127.71 L419.33,130.64 L418.78,133.58 L418.21,136.52 L417.63,139.45 L417.03,142.39 L416.37,145.33 L415.61,148.26 L414.73,151.20 L414.58,151.64 L414.43,152.09 L414.25,152.53 L414.07,152.97 L413.86,153.41 L413.63,153.86 L413.38,154.30 L413.09,154.74 L412.76,155.19 L412.33,155.63 L411.78,156.07 L411.07,156.51 L409.58,156.96 L407.50,157.40 L407.50,157.40 L405.40,156.96 L403.89,156.51 L403.15,156.07 L402.58,155.63 L402.14,155.19 L401.78,154.74 L401.48,154.30 L401.20,153.86 L400.95,153.41 L400.72,152.97 L400.51,152.53 L400.32,152.09 L400.14,151.64 L399.97,151.20 L398.94,148.26 L398.04,145.33 L397.24,142.39 L396.50,139.45 L395.78,136.52 L395.07,133.58 L394.37,130.64 L393.71,127.71 L393.06,124.77 L392.46,121.83 L391.88,118.89 L391.35,115.96 L390.87,113.02 L390.40,110.08 L389.97,107.15 L389.55,104.21 L389.17,101.27 L388.82,98.34 L388.50,95.40 Z" fill="url(#dg8)"/><path d="M469.50,95.40 L469.32,98.34 L469.11,101.27 L468.87,104.21 L468.60,107.15 L468.31,110.08 L467.99,113.02 L467.64,115.96 L467.25,118.89 L466.82,121.83 L466.36,124.77 L465.86,127.71 L465.33,130.64 L464.78,133.58 L464.21,136.52 L463.63,139.45 L463.03,142.39 L462.37,145.33 L461.61,148.26 L460.73,151.20 L460.58,151.64 L460.43,152.09 L460.25,152.53 L460.07,152.97 L459.86,153.41 L459.63,153.86 L459.38,154.30 L459.09,154.74 L458.76,155.19 L458.33,155.63 L457.78,156.07 L457.07,156.51 L455.58,156.96 L453.50,157.40 L453.50,157.40 L451.40,156.96 L449.89,156.51 L449.15,156.07 L448.58,155.63 L448.14,155.19 L447.78,154.74 L447.48,154.30 L447.20,153.86 L446.95,153.41 L446.72,152.97 L446.51,152.53 L446.32,152.09 L446.14,151.64 L445.97,151.20 L444.94,148.26 L444.04,145.33 L443.24,142.39 L442.50,139.45 L441.78,136.52 L441.07,133.58 L440.37,130.64 L439.71,127.71 L439.06,124.77 L438.46,121.83 L437.88,118.89 L437.35,115.96 L436.87,113.02 L436.40,110.08 L435.97,107.15 L435.55,104.21 L435.17,101.27 L434.82,98.34 L434.50,95.40 Z" fill="url(#dg9)"/><path d="M511.50,95.40 L511.32,98.34 L511.11,101.27 L510.87,104.21 L510.60,107.15 L510.31,110.08 L509.99,113.02 L509.64,115.96 L509.25,118.89 L508.82,121.83 L508.36,124.77 L507.86,127.71 L507.33,130.64 L506.78,133.58 L506.21,136.52 L505.63,139.45 L505.03,142.39 L504.37,145.33 L503.61,148.26 L502.73,151.20 L502.58,151.64 L502.43,152.09 L502.25,152.53 L502.07,152.97 L501.86,153.41 L501.63,153.86 L501.38,154.30 L501.09,154.74 L500.76,155.19 L500.33,155.63 L499.78,156.07 L499.07,156.51 L497.58,156.96 L495.50,157.40 L495.50,157.40 L493.40,156.96 L491.89,156.51 L491.15,156.07 L490.58,155.63 L490.14,155.19 L489.78,154.74 L489.48,154.30 L489.20,153.86 L488.95,153.41 L488.72,152.97 L488.51,152.53 L488.32,152.09 L488.14,151.64 L487.97,151.20 L486.94,148.26 L486.04,145.33 L485.24,142.39 L484.50,139.45 L483.78,136.52 L483.07,133.58 L482.37,130.64 L481.71,127.71 L481.06,124.77 L480.46,121.83 L479.88,118.89 L479.35,115.96 L478.87,113.02 L478.40,110.08 L477.97,107.15 L477.55,104.21 L477.17,101.27 L476.82,98.34 L476.50,95.40 Z" fill="url(#dg10)"/></g><g filter="url(#soft2)"><line x1="32" y1="51.50" x2="515" y2="54.59" stroke="#2e2820" stroke-width="1.6"/><rect x="38.4" y="50.1" width="26.3" height="3.3" fill="#e9e7e2"/><line x1="38.9" y1="54.0" x2="64.1" y2="54.0" stroke="#8a98a8" stroke-width="1.4" stroke-opacity="1"/><rect x="83.9" y="50.4" width="26.3" height="3.3" fill="#b9b3aa"/><line x1="84.4" y1="54.8" x2="109.6" y2="54.8" stroke="#6a5a40" stroke-width="1.4" stroke-opacity="0.65"/><rect x="127.9" y="50.7" width="26.3" height="3.3" fill="#a7a197"/><line x1="128.4" y1="55.1" x2="153.6" y2="55.1" stroke="#6a5a40" stroke-width="1.4" stroke-opacity="0.65"/><rect x="173.9" y="51.0" width="26.3" height="3.3" fill="#a1988a"/><line x1="174.4" y1="55.4" x2="199.6" y2="55.4" stroke="#6a5a40" stroke-width="1.4" stroke-opacity="0.65"/><rect x="219.4" y="51.3" width="26.3" height="3.3" fill="#9c917b"/><line x1="219.9" y1="55.7" x2="245.1" y2="55.7" stroke="#6a5a40" stroke-width="1.4" stroke-opacity="0.65"/><rect x="263.4" y="51.6" width="26.3" height="3.3" fill="#a0906e"/><line x1="263.9" y1="56.0" x2="289.1" y2="56.0" stroke="#6a5a40" stroke-width="1.4" stroke-opacity="0.65"/><rect x="307.9" y="51.8" width="26.3" height="3.3" fill="#a08e64"/><line x1="308.4" y1="56.2" x2="333.6" y2="56.2" stroke="#6a5a40" stroke-width="1.4" stroke-opacity="0.65"/><rect x="350.9" y="52.1" width="26.3" height="3.3" fill="#a08654"/><line x1="351.4" y1="56.5" x2="376.6" y2="56.5" stroke="#6a5a40" stroke-width="1.4" stroke-opacity="0.65"/><rect x="393.9" y="52.4" width="26.3" height="3.3" fill="#ae8648"/><line x1="394.4" y1="56.8" x2="419.6" y2="56.8" stroke="#6a5a40" stroke-width="1.4" stroke-opacity="0.65"/><rect x="438.4" y="52.7" width="26.3" height="3.3" fill="#c08e40"/><line x1="438.9" y1="57.1" x2="464.1" y2="57.1" stroke="#6a5a40" stroke-width="1.4" stroke-opacity="0.65"/><rect x="479.4" y="52.9" width="26.3" height="3.3" fill="#c29244"/><line x1="479.9" y1="57.3" x2="505.1" y2="57.3" stroke="#6a5a40" stroke-width="1.4" stroke-opacity="0.65"/><line x1="36" y1="110.80" x2="515" y2="114.39" stroke="#33291c" stroke-width="1.5"/><rect x="37.0" y="109.4" width="30.1" height="3.2" fill="#ffd800"/><line x1="37.2" y1="113.5" x2="66.3" y2="113.5" stroke="#4a3a10" stroke-width="1.3" stroke-opacity="0.7"/><rect x="78.2" y="109.7" width="30.1" height="3.2" fill="#e4bc00"/><line x1="78.5" y1="113.8" x2="107.5" y2="113.8" stroke="#4a3a10" stroke-width="1.3" stroke-opacity="0.7"/><rect x="123.4" y="110.1" width="30.1" height="3.2" fill="#e0ba00"/><line x1="123.6" y1="114.2" x2="152.8" y2="114.2" stroke="#4a3a10" stroke-width="1.3" stroke-opacity="0.7"/><rect x="170.2" y="110.4" width="30.1" height="3.2" fill="#deb800"/><line x1="170.4" y1="114.5" x2="199.6" y2="114.5" stroke="#4a3a10" stroke-width="1.3" stroke-opacity="0.7"/><rect x="214.2" y="110.7" width="30.1" height="3.2" fill="#e0ba00"/><line x1="214.4" y1="114.8" x2="243.6" y2="114.8" stroke="#4a3a10" stroke-width="1.3" stroke-opacity="0.7"/><rect x="260.1" y="111.1" width="30.1" height="3.2" fill="#e0b800"/><line x1="260.2" y1="115.2" x2="289.4" y2="115.2" stroke="#4a3a10" stroke-width="1.3" stroke-opacity="0.7"/><rect x="303.1" y="111.4" width="30.1" height="3.2" fill="#e89e1c"/><line x1="303.3" y1="115.5" x2="332.4" y2="115.5" stroke="#4a3a10" stroke-width="1.3" stroke-opacity="0.7"/><rect x="346.8" y="111.7" width="30.1" height="3.2" fill="#984226"/><rect x="391.2" y="112.1" width="30.1" height="3.2" fill="#3e201e"/><rect x="437.2" y="112.4" width="30.1" height="3.2" fill="#2e2626"/><rect x="479.2" y="112.7" width="30.1" height="3.2" fill="#302828"/></g>
<path d="M43.60,311.64 L44.75,311.64 L45.90,311.64 L47.05,311.64 L48.20,311.64 L49.35,311.64 L50.50,311.64 L51.65,311.64 L52.80,311.64 L53.95,311.64 L55.10,311.64 L56.25,311.64 L57.40,311.64 L58.55,311.64 L59.70,311.64 L60.85,311.64 L61.99,311.64 L63.14,311.64 L64.29,311.64 L65.44,311.64 L66.59,311.64 L67.74,311.64 L68.89,311.64 L70.04,311.64 L71.19,311.64 L72.34,311.64 L73.49,311.64 L74.64,311.64 L75.79,311.64 L76.94,311.64 L78.09,311.64 L79.24,311.64 L80.39,311.64 L81.54,311.64 L82.69,311.64 L83.84,311.64 L84.99,311.64 L86.14,311.64 L87.29,311.64 L88.44,311.64 L89.59,311.64 L90.74,311.64 L91.89,311.64 L93.04,311.64 L94.19,311.64 L95.34,311.64 L96.49,311.64 L97.64,311.64 L98.78,311.64 L99.93,311.64 L101.08,311.64 L102.23,311.64 L103.38,311.64 L104.53,311.64 L105.68,311.64 L106.83,311.64 L107.98,311.64 L109.13,311.64 L110.28,311.64 L111.43,311.64 L112.58,311.64 L113.73,311.64 L114.88,311.64 L116.03,311.64 L117.18,311.64 L118.33,311.64 L119.48,311.64 L120.63,311.64 L121.78,311.64 L122.93,311.64 L124.08,311.64 L125.23,311.64 L126.38,311.64 L127.53,311.64 L128.68,311.64 L129.83,311.64 L130.98,311.64 L132.13,311.64 L133.28,311.64 L134.43,311.64 L135.57,311.64 L136.72,311.64 L137.87,311.64 L139.02,311.64 L140.17,311.64 L141.32,311.64 L142.47,311.64 L143.62,311.64 L144.77,311.64 L145.92,311.64 L147.07,311.64 L148.22,311.64 L149.37,311.64 L150.52,311.64 L151.67,311.64 L152.82,311.64 L153.97,311.64 L155.12,311.64 L156.27,311.64 L157.42,311.64 L158.57,311.64 L159.72,311.64 L160.87,311.64 L162.02,311.64 L163.17,311.64 L164.32,311.64 L165.47,311.64 L166.62,311.64 L167.77,311.64 L168.92,311.64 L170.07,311.64 L171.22,311.64 L172.36,311.64 L173.51,311.64 L174.66,311.64 L175.81,311.64 L176.96,311.64 L178.11,311.64 L179.26,311.64 L180.41,311.64 L181.56,311.64 L182.71,311.64 L183.86,311.64 L185.01,311.64 L186.16,311.64 L187.31,311.64 L188.46,311.64 L189.61,311.64 L190.76,311.64 L191.91,311.64 L193.06,311.64 L194.21,311.64 L195.36,311.64 L196.51,311.64 L197.66,311.64 L198.81,311.64 L199.96,311.64 L201.11,311.64 L202.26,311.64 L203.41,311.64 L204.56,311.64 L205.71,311.64 L206.86,311.64 L208.01,311.64 L209.15,311.64 L210.30,311.64 L211.45,311.64 L212.60,311.64 L213.75,311.64 L214.90,311.64 L216.05,311.64 L217.20,311.64 L218.35,311.64 L219.50,311.64 L220.65,311.64 L221.80,311.64 L222.95,311.64 L224.10,311.64 L225.25,311.64 L226.40,311.64" fill="none" stroke="#404040" stroke-width="1.6"/><path d="M43.60,302.97 L44.75,302.83 L45.90,302.69 L47.05,302.56 L48.20,302.43 L49.35,302.32 L50.50,302.21 L51.65,302.13 L52.80,302.05 L53.95,301.99 L55.10,301.92 L56.25,301.86 L57.40,301.80 L58.55,301.74 L59.70,301.68 L60.85,301.63 L61.99,301.59 L63.14,301.55 L64.29,301.51 L65.44,301.49 L66.59,301.47 L67.74,301.46 L68.89,301.46 L70.04,301.46 L71.19,301.47 L72.34,301.48 L73.49,301.48 L74.64,301.49 L75.79,301.51 L76.94,301.52 L78.09,301.53 L79.24,301.55 L80.39,301.56 L81.54,301.58 L82.69,301.60 L83.84,301.61 L84.99,301.63 L86.14,301.65 L87.29,301.66 L88.44,301.68 L89.59,301.69 L90.74,301.71 L91.89,301.72 L93.04,301.74 L94.19,301.76 L95.34,301.77 L96.49,301.79 L97.64,301.81 L98.78,301.83 L99.93,301.85 L101.08,301.87 L102.23,301.89 L103.38,301.91 L104.53,301.93 L105.68,301.95 L106.83,301.97 L107.98,301.99 L109.13,302.01 L110.28,302.03 L111.43,302.05 L112.58,302.07 L113.73,302.09 L114.88,302.11 L116.03,302.13 L117.18,302.16 L118.33,302.18 L119.48,302.20 L120.63,302.22 L121.78,302.24 L122.93,302.26 L124.08,302.28 L125.23,302.30 L126.38,302.33 L127.53,302.35 L128.68,302.37 L129.83,302.39 L130.98,302.41 L132.13,302.43 L133.28,302.45 L134.43,302.48 L135.57,302.50 L136.72,302.52 L137.87,302.54 L139.02,302.56 L140.17,302.59 L141.32,302.61 L142.47,302.63 L143.62,302.65 L144.77,302.67 L145.92,302.70 L147.07,302.72 L148.22,302.74 L149.37,302.77 L150.52,302.79 L151.67,302.81 L152.82,302.83 L153.97,302.86 L155.12,302.88 L156.27,302.90 L157.42,302.93 L158.57,302.95 L159.72,302.97 L160.87,303.00 L162.02,303.02 L163.17,303.05 L164.32,303.07 L165.47,303.09 L166.62,303.12 L167.77,303.14 L168.92,303.17 L170.07,303.19 L171.22,303.22 L172.36,303.24 L173.51,303.27 L174.66,303.29 L175.81,303.32 L176.96,303.34 L178.11,303.37 L179.26,303.39 L180.41,303.42 L181.56,303.45 L182.71,303.47 L183.86,303.50 L185.01,303.53 L186.16,303.55 L187.31,303.58 L188.46,303.61 L189.61,303.64 L190.76,303.66 L191.91,303.69 L193.06,303.72 L194.21,303.75 L195.36,303.78 L196.51,303.81 L197.66,303.83 L198.81,303.86 L199.96,303.89 L201.11,303.92 L202.26,303.95 L203.41,303.98 L204.56,304.01 L205.71,304.04 L206.86,304.07 L208.01,304.10 L209.15,304.13 L210.30,304.16 L211.45,304.20 L212.60,304.23 L213.75,304.26 L214.90,304.29 L216.05,304.32 L217.20,304.35 L218.35,304.38 L219.50,304.42 L220.65,304.45 L221.80,304.48 L222.95,304.51 L224.10,304.54 L225.25,304.58 L226.40,304.61" fill="none" stroke="#c8843c" stroke-width="1.5"/><path d="M43.60,298.59 L44.75,298.44 L45.90,298.29 L47.05,298.15 L48.20,298.02 L49.35,297.90 L50.50,297.79 L51.65,297.70 L52.80,297.63 L53.95,297.56 L55.10,297.49 L56.25,297.43 L57.40,297.37 L58.55,297.31 L59.70,297.25 L60.85,297.20 L61.99,297.16 L63.14,297.12 L64.29,297.09 L65.44,297.06 L66.59,297.05 L67.74,297.04 L68.89,297.04 L70.04,297.04 L71.19,297.04 L72.34,297.04 L73.49,297.04 L74.64,297.05 L75.79,297.05 L76.94,297.06 L78.09,297.06 L79.24,297.07 L80.39,297.07 L81.54,297.08 L82.69,297.09 L83.84,297.09 L84.99,297.10 L86.14,297.11 L87.29,297.11 L88.44,297.12 L89.59,297.13 L90.74,297.14 L91.89,297.14 L93.04,297.15 L94.19,297.16 L95.34,297.17 L96.49,297.18 L97.64,297.19 L98.78,297.20 L99.93,297.21 L101.08,297.22 L102.23,297.23 L103.38,297.24 L104.53,297.25 L105.68,297.27 L106.83,297.28 L107.98,297.29 L109.13,297.31 L110.28,297.32 L111.43,297.33 L112.58,297.35 L113.73,297.36 L114.88,297.37 L116.03,297.39 L117.18,297.40 L118.33,297.42 L119.48,297.43 L120.63,297.45 L121.78,297.46 L122.93,297.48 L124.08,297.49 L125.23,297.51 L126.38,297.52 L127.53,297.54 L128.68,297.56 L129.83,297.57 L130.98,297.59 L132.13,297.61 L133.28,297.63 L134.43,297.65 L135.57,297.66 L136.72,297.68 L137.87,297.70 L139.02,297.72 L140.17,297.74 L141.32,297.76 L142.47,297.78 L143.62,297.81 L144.77,297.83 L145.92,297.85 L147.07,297.87 L148.22,297.89 L149.37,297.91 L150.52,297.94 L151.67,297.96 L152.82,297.98 L153.97,298.00 L155.12,298.03 L156.27,298.05 L157.42,298.07 L158.57,298.10 L159.72,298.12 L160.87,298.14 L162.02,298.17 L163.17,298.19 L164.32,298.22 L165.47,298.24 L166.62,298.26 L167.77,298.29 L168.92,298.31 L170.07,298.33 L171.22,298.36 L172.36,298.38 L173.51,298.40 L174.66,298.43 L175.81,298.45 L176.96,298.48 L178.11,298.50 L179.26,298.52 L180.41,298.54 L181.56,298.57 L182.71,298.59 L183.86,298.61 L185.01,298.64 L186.16,298.66 L187.31,298.68 L188.46,298.70 L189.61,298.73 L190.76,298.75 L191.91,298.77 L193.06,298.80 L194.21,298.82 L195.36,298.84 L196.51,298.87 L197.66,298.89 L198.81,298.92 L199.96,298.94 L201.11,298.96 L202.26,298.99 L203.41,299.01 L204.56,299.03 L205.71,299.06 L206.86,299.08 L208.01,299.11 L209.15,299.13 L210.30,299.15 L211.45,299.18 L212.60,299.20 L213.75,299.23 L214.90,299.25 L216.05,299.28 L217.20,299.30 L218.35,299.33 L219.50,299.35 L220.65,299.38 L221.80,299.40 L222.95,299.42 L224.10,299.45 L225.25,299.47 L226.40,299.50" fill="none" stroke="#e02a38" stroke-width="1.5"/><path d="M43.60,292.20 L44.75,291.99 L45.90,291.78 L47.05,291.58 L48.20,291.40 L49.35,291.22 L50.50,291.07 L51.65,290.93 L52.80,290.82 L53.95,290.73 L55.10,290.63 L56.25,290.54 L57.40,290.45 L58.55,290.36 L59.70,290.28 L60.85,290.21 L61.99,290.15 L63.14,290.09 L64.29,290.04 L65.44,290.00 L66.59,289.98 L67.74,289.96 L68.89,289.96 L70.04,289.97 L71.19,289.97 L72.34,289.98 L73.49,289.99 L74.64,290.01 L75.79,290.02 L76.94,290.04 L78.09,290.06 L79.24,290.08 L80.39,290.10 L81.54,290.13 L82.69,290.15 L83.84,290.17 L84.99,290.20 L86.14,290.22 L87.29,290.24 L88.44,290.27 L89.59,290.29 L90.74,290.31 L91.89,290.33 L93.04,290.35 L94.19,290.38 L95.34,290.40 L96.49,290.43 L97.64,290.45 L98.78,290.48 L99.93,290.50 L101.08,290.53 L102.23,290.56 L103.38,290.58 L104.53,290.61 L105.68,290.64 L106.83,290.67 L107.98,290.70 L109.13,290.73 L110.28,290.76 L111.43,290.79 L112.58,290.82 L113.73,290.85 L114.88,290.88 L116.03,290.91 L117.18,290.95 L118.33,290.98 L119.48,291.01 L120.63,291.05 L121.78,291.08 L122.93,291.12 L124.08,291.15 L125.23,291.19 L126.38,291.22 L127.53,291.26 L128.68,291.30 L129.83,291.34 L130.98,291.38 L132.13,291.42 L133.28,291.46 L134.43,291.51 L135.57,291.55 L136.72,291.59 L137.87,291.64 L139.02,291.69 L140.17,291.73 L141.32,291.78 L142.47,291.83 L143.62,291.87 L144.77,291.92 L145.92,291.97 L147.07,292.02 L148.22,292.07 L149.37,292.12 L150.52,292.17 L151.67,292.22 L152.82,292.27 L153.97,292.33 L155.12,292.38 L156.27,292.43 L157.42,292.48 L158.57,292.53 L159.72,292.58 L160.87,292.64 L162.02,292.69 L163.17,292.74 L164.32,292.79 L165.47,292.84 L166.62,292.89 L167.77,292.94 L168.92,293.00 L170.07,293.05 L171.22,293.10 L172.36,293.15 L173.51,293.20 L174.66,293.25 L175.81,293.29 L176.96,293.34 L178.11,293.39 L179.26,293.44 L180.41,293.48 L181.56,293.53 L182.71,293.57 L183.86,293.62 L185.01,293.66 L186.16,293.71 L187.31,293.75 L188.46,293.80 L189.61,293.84 L190.76,293.89 L191.91,293.93 L193.06,293.98 L194.21,294.02 L195.36,294.06 L196.51,294.11 L197.66,294.15 L198.81,294.19 L199.96,294.24 L201.11,294.28 L202.26,294.32 L203.41,294.37 L204.56,294.41 L205.71,294.45 L206.86,294.50 L208.01,294.54 L209.15,294.58 L210.30,294.62 L211.45,294.67 L212.60,294.71 L213.75,294.75 L214.90,294.79 L216.05,294.84 L217.20,294.88 L218.35,294.92 L219.50,294.96 L220.65,295.00 L221.80,295.04 L222.95,295.09 L224.10,295.13 L225.25,295.17 L226.40,295.21" fill="none" stroke="#f08030" stroke-width="1.5"/><path d="M43.60,285.72 L44.75,285.46 L45.90,285.21 L47.05,284.96 L48.20,284.73 L49.35,284.52 L50.50,284.33 L51.65,284.16 L52.80,284.02 L53.95,283.90 L55.10,283.78 L56.25,283.67 L57.40,283.55 L58.55,283.44 L59.70,283.34 L60.85,283.25 L61.99,283.17 L63.14,283.09 L64.29,283.03 L65.44,282.99 L66.59,282.95 L67.74,282.94 L68.89,282.94 L70.04,282.94 L71.19,282.95 L72.34,282.96 L73.49,282.98 L74.64,283.00 L75.79,283.02 L76.94,283.05 L78.09,283.08 L79.24,283.11 L80.39,283.14 L81.54,283.18 L82.69,283.22 L83.84,283.25 L84.99,283.29 L86.14,283.33 L87.29,283.37 L88.44,283.41 L89.59,283.45 L90.74,283.49 L91.89,283.54 L93.04,283.59 L94.19,283.64 L95.34,283.70 L96.49,283.77 L97.64,283.83 L98.78,283.90 L99.93,283.98 L101.08,284.05 L102.23,284.13 L103.38,284.21 L104.53,284.29 L105.68,284.38 L106.83,284.46 L107.98,284.55 L109.13,284.63 L110.28,284.72 L111.43,284.81 L112.58,284.90 L113.73,284.99 L114.88,285.07 L116.03,285.16 L117.18,285.24 L118.33,285.33 L119.48,285.41 L120.63,285.49 L121.78,285.57 L122.93,285.65 L124.08,285.72 L125.23,285.79 L126.38,285.87 L127.53,285.94 L128.68,286.01 L129.83,286.09 L130.98,286.16 L132.13,286.23 L133.28,286.30 L134.43,286.37 L135.57,286.45 L136.72,286.52 L137.87,286.59 L139.02,286.66 L140.17,286.73 L141.32,286.80 L142.47,286.88 L143.62,286.95 L144.77,287.02 L145.92,287.09 L147.07,287.16 L148.22,287.23 L149.37,287.30 L150.52,287.37 L151.67,287.44 L152.82,287.51 L153.97,287.58 L155.12,287.65 L156.27,287.72 L157.42,287.79 L158.57,287.86 L159.72,287.93 L160.87,288.00 L162.02,288.07 L163.17,288.14 L164.32,288.21 L165.47,288.28 L166.62,288.34 L167.77,288.41 L168.92,288.48 L170.07,288.55 L171.22,288.62 L172.36,288.69 L173.51,288.75 L174.66,288.82 L175.81,288.89 L176.96,288.96 L178.11,289.02 L179.26,289.09 L180.41,289.16 L181.56,289.22 L182.71,289.29 L183.86,289.36 L185.01,289.42 L186.16,289.49 L187.31,289.55 L188.46,289.62 L189.61,289.68 L190.76,289.75 L191.91,289.81 L193.06,289.88 L194.21,289.94 L195.36,290.01 L196.51,290.07 L197.66,290.14 L198.81,290.20 L199.96,290.27 L201.11,290.33 L202.26,290.39 L203.41,290.46 L204.56,290.52 L205.71,290.58 L206.86,290.65 L208.01,290.71 L209.15,290.77 L210.30,290.83 L211.45,290.90 L212.60,290.96 L213.75,291.02 L214.90,291.08 L216.05,291.15 L217.20,291.21 L218.35,291.27 L219.50,291.33 L220.65,291.39 L221.80,291.45 L222.95,291.51 L224.10,291.58 L225.25,291.64 L226.40,291.70" fill="none" stroke="#a0a028" stroke-width="1.5"/><path d="M43.60,197.11 L44.75,195.86 L45.90,194.66 L47.05,193.51 L48.20,192.42 L49.35,191.40 L50.50,190.46 L51.65,189.61 L52.80,188.86 L53.95,188.21 L55.10,187.66 L56.25,187.14 L57.40,186.63 L58.55,186.13 L59.70,185.68 L60.85,185.27 L61.99,184.92 L63.14,184.64 L64.29,184.44 L65.44,184.34 L66.59,184.34 L67.74,184.46 L68.89,184.67 L70.04,184.98 L71.19,185.37 L72.34,185.85 L73.49,186.40 L74.64,187.01 L75.79,187.69 L76.94,188.42 L78.09,189.19 L79.24,190.00 L80.39,190.85 L81.54,191.72 L82.69,192.60 L83.84,193.50 L84.99,194.40 L86.14,195.30 L87.29,196.19 L88.44,197.06 L89.59,197.91 L90.74,198.79 L91.89,199.73 L93.04,200.72 L94.19,201.76 L95.34,202.84 L96.49,203.96 L97.64,205.11 L98.78,206.30 L99.93,207.50 L101.08,208.72 L102.23,209.96 L103.38,211.21 L104.53,212.47 L105.68,213.72 L106.83,214.97 L107.98,216.21 L109.13,217.44 L110.28,218.65 L111.43,219.84 L112.58,221.00 L113.73,222.17 L114.88,223.35 L116.03,224.54 L117.18,225.74 L118.33,226.94 L119.48,228.14 L120.63,229.35 L121.78,230.55 L122.93,231.75 L124.08,232.95 L125.23,234.14 L126.38,235.32 L127.53,236.49 L128.68,237.65 L129.83,238.80 L130.98,239.93 L132.13,241.04 L133.28,242.13 L134.43,243.19 L135.57,244.24 L136.72,245.28 L137.87,246.32 L139.02,247.35 L140.17,248.38 L141.32,249.40 L142.47,250.41 L143.62,251.41 L144.77,252.40 L145.92,253.38 L147.07,254.34 L148.22,255.29 L149.37,256.23 L150.52,257.15 L151.67,258.05 L152.82,258.93 L153.97,259.79 L155.12,260.62 L156.27,261.44 L157.42,262.23 L158.57,263.00 L159.72,263.76 L160.87,264.52 L162.02,265.26 L163.17,265.99 L164.32,266.71 L165.47,267.43 L166.62,268.12 L167.77,268.81 L168.92,269.48 L170.07,270.14 L171.22,270.78 L172.36,271.41 L173.51,272.02 L174.66,272.62 L175.81,273.19 L176.96,273.75 L178.11,274.29 L179.26,274.81 L180.41,275.31 L181.56,275.79 L182.71,276.26 L183.86,276.74 L185.01,277.20 L186.16,277.66 L187.31,278.11 L188.46,278.55 L189.61,278.99 L190.76,279.41 L191.91,279.81 L193.06,280.21 L194.21,280.59 L195.36,280.96 L196.51,281.31 L197.66,281.64 L198.81,281.96 L199.96,282.25 L201.11,282.53 L202.26,282.78 L203.41,283.02 L204.56,283.23 L205.71,283.45 L206.86,283.66 L208.01,283.87 L209.15,284.08 L210.30,284.28 L211.45,284.47 L212.60,284.65 L213.75,284.83 L214.90,285.00 L216.05,285.16 L217.20,285.32 L218.35,285.46 L219.50,285.59 L220.65,285.70 L221.80,285.81 L222.95,285.90 L224.10,285.98 L225.25,286.04 L226.40,286.08" fill="none" stroke="#e0286e" stroke-width="1.5"/><path d="M43.60,205.32 L44.75,204.12 L45.90,202.96 L47.05,201.85 L48.20,200.80 L49.35,199.82 L50.50,198.91 L51.65,198.09 L52.80,197.36 L53.95,196.74 L55.10,196.21 L56.25,195.71 L57.40,195.21 L58.55,194.74 L59.70,194.30 L60.85,193.91 L61.99,193.57 L63.14,193.30 L64.29,193.11 L65.44,193.01 L66.59,193.01 L67.74,193.11 L68.89,193.31 L70.04,193.59 L71.19,193.94 L72.34,194.38 L73.49,194.88 L74.64,195.44 L75.79,196.05 L76.94,196.71 L78.09,197.41 L79.24,198.15 L80.39,198.92 L81.54,199.71 L82.69,200.51 L83.84,201.33 L84.99,202.14 L86.14,202.96 L87.29,203.76 L88.44,204.55 L89.59,205.32 L90.74,206.13 L91.89,206.98 L93.04,207.88 L94.19,208.82 L95.34,209.81 L96.49,210.82 L97.64,211.87 L98.78,212.94 L99.93,214.03 L101.08,215.14 L102.23,216.26 L103.38,217.39 L104.53,218.53 L105.68,219.66 L106.83,220.79 L107.98,221.91 L109.13,223.02 L110.28,224.10 L111.43,225.17 L112.58,226.21 L113.73,227.25 L114.88,228.30 L116.03,229.36 L117.18,230.42 L118.33,231.48 L119.48,232.54 L120.63,233.61 L121.78,234.67 L122.93,235.73 L124.08,236.78 L125.23,237.83 L126.38,238.87 L127.53,239.90 L128.68,240.93 L129.83,241.94 L130.98,242.93 L132.13,243.92 L133.28,244.89 L134.43,245.84 L135.57,246.77 L136.72,247.70 L137.87,248.62 L139.02,249.54 L140.17,250.46 L141.32,251.37 L142.47,252.27 L143.62,253.16 L144.77,254.05 L145.92,254.92 L147.07,255.79 L148.22,256.64 L149.37,257.48 L150.52,258.31 L151.67,259.12 L152.82,259.92 L153.97,260.70 L155.12,261.46 L156.27,262.21 L157.42,262.94 L158.57,263.65 L159.72,264.35 L160.87,265.05 L162.02,265.74 L163.17,266.42 L164.32,267.09 L165.47,267.75 L166.62,268.40 L167.77,269.05 L168.92,269.68 L170.07,270.29 L171.22,270.90 L172.36,271.49 L173.51,272.07 L174.66,272.64 L175.81,273.18 L176.96,273.72 L178.11,274.23 L179.26,274.73 L180.41,275.22 L181.56,275.68 L182.71,276.15 L183.86,276.61 L185.01,277.06 L186.16,277.51 L187.31,277.95 L188.46,278.39 L189.61,278.81 L190.76,279.23 L191.91,279.63 L193.06,280.02 L194.21,280.40 L195.36,280.77 L196.51,281.12 L197.66,281.45 L198.81,281.77 L199.96,282.07 L201.11,282.35 L202.26,282.61 L203.41,282.85 L204.56,283.08 L205.71,283.30 L206.86,283.52 L208.01,283.73 L209.15,283.95 L210.30,284.15 L211.45,284.35 L212.60,284.54 L213.75,284.73 L214.90,284.90 L216.05,285.07 L217.20,285.23 L218.35,285.38 L219.50,285.52 L220.65,285.65 L221.80,285.76 L222.95,285.86 L224.10,285.95 L225.25,286.02 L226.40,286.08" fill="none" stroke="#902a90" stroke-width="1.5"/><path d="M43.60,213.53 L44.75,212.64 L45.90,211.79 L47.05,210.97 L48.20,210.19 L49.35,209.46 L50.50,208.79 L51.65,208.18 L52.80,207.64 L53.95,207.18 L55.10,206.79 L56.25,206.41 L57.40,206.05 L58.55,205.70 L59.70,205.37 L60.85,205.08 L61.99,204.83 L63.14,204.63 L64.29,204.49 L65.44,204.42 L66.59,204.42 L67.74,204.49 L68.89,204.64 L70.04,204.85 L71.19,205.12 L72.34,205.45 L73.49,205.83 L74.64,206.25 L75.79,206.72 L76.94,207.22 L78.09,207.76 L79.24,208.32 L80.39,208.90 L81.54,209.51 L82.69,210.12 L83.84,210.75 L84.99,211.37 L86.14,212.00 L87.29,212.62 L88.44,213.23 L89.59,213.82 L90.74,214.44 L91.89,215.10 L93.04,215.80 L94.19,216.53 L95.34,217.29 L96.49,218.08 L97.64,218.90 L98.78,219.73 L99.93,220.59 L101.08,221.46 L102.23,222.34 L103.38,223.24 L104.53,224.14 L105.68,225.04 L106.83,225.94 L107.98,226.85 L109.13,227.74 L110.28,228.63 L111.43,229.51 L112.58,230.37 L113.73,231.24 L114.88,232.13 L116.03,233.02 L117.18,233.92 L118.33,234.83 L119.48,235.74 L120.63,236.66 L121.78,237.59 L122.93,238.51 L124.08,239.43 L125.23,240.35 L126.38,241.27 L127.53,242.19 L128.68,243.10 L129.83,244.00 L130.98,244.89 L132.13,245.78 L133.28,246.65 L134.43,247.51 L135.57,248.35 L136.72,249.20 L137.87,250.04 L139.02,250.88 L140.17,251.72 L141.32,252.55 L142.47,253.38 L143.62,254.21 L144.77,255.03 L145.92,255.84 L147.07,256.65 L148.22,257.45 L149.37,258.24 L150.52,259.02 L151.67,259.79 L152.82,260.55 L153.97,261.30 L155.12,262.04 L156.27,262.76 L157.42,263.47 L158.57,264.17 L159.72,264.86 L160.87,265.56 L162.02,266.25 L163.17,266.93 L164.32,267.61 L165.47,268.28 L166.62,268.95 L167.77,269.60 L168.92,270.25 L170.07,270.88 L171.22,271.51 L172.36,272.12 L173.51,272.72 L174.66,273.30 L175.81,273.87 L176.96,274.42 L178.11,274.96 L179.26,275.47 L180.41,275.97 L181.56,276.45 L182.71,276.94 L183.86,277.42 L185.01,277.91 L186.16,278.39 L187.31,278.87 L188.46,279.34 L189.61,279.80 L190.76,280.24 L191.91,280.68 L193.06,281.10 L194.21,281.50 L195.36,281.89 L196.51,282.25 L197.66,282.59 L198.81,282.91 L199.96,283.19 L201.11,283.45 L202.26,283.68 L203.41,283.87 L204.56,284.04 L205.71,284.21 L206.86,284.38 L208.01,284.54 L209.15,284.70 L210.30,284.86 L211.45,285.00 L212.60,285.15 L213.75,285.28 L214.90,285.41 L216.05,285.53 L217.20,285.64 L218.35,285.74 L219.50,285.82 L220.65,285.90 L221.80,285.96 L222.95,286.02 L224.10,286.05 L225.25,286.08 L226.40,286.08" fill="none" stroke="#6a2a9a" stroke-width="1.5"/><path d="M43.60,272.85 L44.75,272.36 L45.90,271.89 L47.05,271.44 L48.20,271.01 L49.35,270.61 L50.50,270.24 L51.65,269.91 L52.80,269.61 L53.95,269.36 L55.10,269.14 L56.25,268.94 L57.40,268.73 L58.55,268.54 L59.70,268.36 L60.85,268.20 L61.99,268.06 L63.14,267.95 L64.29,267.88 L65.44,267.84 L66.59,267.83 L67.74,267.84 L68.89,267.84 L70.04,267.86 L71.19,267.87 L72.34,267.89 L73.49,267.91 L74.64,267.93 L75.79,267.96 L76.94,267.99 L78.09,268.02 L79.24,268.06 L80.39,268.09 L81.54,268.13 L82.69,268.17 L83.84,268.22 L84.99,268.26 L86.14,268.31 L87.29,268.35 L88.44,268.40 L89.59,268.45 L90.74,268.52 L91.89,268.59 L93.04,268.69 L94.19,268.79 L95.34,268.91 L96.49,269.04 L97.64,269.18 L98.78,269.32 L99.93,269.48 L101.08,269.64 L102.23,269.81 L103.38,269.98 L104.53,270.16 L105.68,270.34 L106.83,270.52 L107.98,270.70 L109.13,270.88 L110.28,271.05 L111.43,271.23 L112.58,271.40 L113.73,271.57 L114.88,271.76 L116.03,271.95 L117.18,272.14 L118.33,272.34 L119.48,272.54 L120.63,272.75 L121.78,272.96 L122.93,273.17 L124.08,273.39 L125.23,273.60 L126.38,273.81 L127.53,274.03 L128.68,274.24 L129.83,274.45 L130.98,274.66 L132.13,274.86 L133.28,275.06 L134.43,275.25 L135.57,275.44 L136.72,275.63 L137.87,275.82 L139.02,276.01 L140.17,276.20 L141.32,276.39 L142.47,276.57 L143.62,276.76 L144.77,276.95 L145.92,277.13 L147.07,277.31 L148.22,277.49 L149.37,277.67 L150.52,277.84 L151.67,278.01 L152.82,278.18 L153.97,278.35 L155.12,278.51 L156.27,278.67 L157.42,278.82 L158.57,278.98 L159.72,279.12 L160.87,279.27 L162.02,279.41 L163.17,279.55 L164.32,279.69 L165.47,279.83 L166.62,279.96 L167.77,280.09 L168.92,280.23 L170.07,280.36 L171.22,280.48 L172.36,280.61 L173.51,280.74 L174.66,280.86 L175.81,280.99 L176.96,281.11 L178.11,281.24 L179.26,281.36 L180.41,281.49 L181.56,281.61 L182.71,281.73 L183.86,281.85 L185.01,281.97 L186.16,282.09 L187.31,282.21 L188.46,282.32 L189.61,282.44 L190.76,282.55 L191.91,282.66 L193.06,282.78 L194.21,282.89 L195.36,283.01 L196.51,283.12 L197.66,283.24 L198.81,283.36 L199.96,283.47 L201.11,283.60 L202.26,283.72 L203.41,283.84 L204.56,283.97 L205.71,284.10 L206.86,284.22 L208.01,284.35 L209.15,284.48 L210.30,284.61 L211.45,284.75 L212.60,284.88 L213.75,285.01 L214.90,285.15 L216.05,285.28 L217.20,285.42 L218.35,285.56 L219.50,285.69 L220.65,285.83 L221.80,285.97 L222.95,286.11 L224.10,286.25 L225.25,286.40 L226.40,286.54" fill="none" stroke="#12927a" stroke-width="1.5"/><path d="M43.60,253.69 L44.75,252.84 L45.90,252.03 L47.05,251.25 L48.20,250.51 L49.35,249.82 L50.50,249.18 L51.65,248.60 L52.80,248.09 L53.95,247.65 L55.10,247.28 L56.25,246.92 L57.40,246.58 L58.55,246.24 L59.70,245.93 L60.85,245.66 L61.99,245.42 L63.14,245.23 L64.29,245.10 L65.44,245.03 L66.59,245.02 L67.74,245.05 L68.89,245.11 L70.04,245.19 L71.19,245.30 L72.34,245.43 L73.49,245.58 L74.64,245.75 L75.79,245.93 L76.94,246.13 L78.09,246.35 L79.24,246.57 L80.39,246.81 L81.54,247.05 L82.69,247.30 L83.84,247.55 L84.99,247.80 L86.14,248.06 L87.29,248.31 L88.44,248.56 L89.59,248.81 L90.74,249.07 L91.89,249.35 L93.04,249.64 L94.19,249.96 L95.34,250.29 L96.49,250.63 L97.64,250.99 L98.78,251.36 L99.93,251.74 L101.08,252.12 L102.23,252.51 L103.38,252.91 L104.53,253.31 L105.68,253.71 L106.83,254.11 L107.98,254.51 L109.13,254.91 L110.28,255.31 L111.43,255.69 L112.58,256.08 L113.73,256.46 L114.88,256.85 L116.03,257.25 L117.18,257.65 L118.33,258.05 L119.48,258.46 L120.63,258.87 L121.78,259.28 L122.93,259.69 L124.08,260.10 L125.23,260.51 L126.38,260.92 L127.53,261.33 L128.68,261.74 L129.83,262.15 L130.98,262.55 L132.13,262.95 L133.28,263.34 L134.43,263.73 L135.57,264.12 L136.72,264.51 L137.87,264.89 L139.02,265.28 L140.17,265.66 L141.32,266.04 L142.47,266.42 L143.62,266.80 L144.77,267.18 L145.92,267.56 L147.07,267.93 L148.22,268.30 L149.37,268.67 L150.52,269.04 L151.67,269.40 L152.82,269.76 L153.97,270.11 L155.12,270.46 L156.27,270.81 L157.42,271.15 L158.57,271.48 L159.72,271.82 L160.87,272.15 L162.02,272.48 L163.17,272.81 L164.32,273.13 L165.47,273.45 L166.62,273.77 L167.77,274.09 L168.92,274.40 L170.07,274.71 L171.22,275.02 L172.36,275.32 L173.51,275.62 L174.66,275.92 L175.81,276.21 L176.96,276.50 L178.11,276.79 L179.26,277.07 L180.41,277.35 L181.56,277.63 L182.71,277.91 L183.86,278.18 L185.01,278.45 L186.16,278.71 L187.31,278.98 L188.46,279.24 L189.61,279.50 L190.76,279.76 L191.91,280.01 L193.06,280.26 L194.21,280.51 L195.36,280.76 L196.51,281.00 L197.66,281.24 L198.81,281.48 L199.96,281.71 L201.11,281.94 L202.26,282.16 L203.41,282.39 L204.56,282.61 L205.71,282.82 L206.86,283.04 L208.01,283.25 L209.15,283.46 L210.30,283.67 L211.45,283.88 L212.60,284.08 L213.75,284.28 L214.90,284.48 L216.05,284.68 L217.20,284.87 L218.35,285.06 L219.50,285.25 L220.65,285.43 L221.80,285.61 L222.95,285.79 L224.10,285.97 L225.25,286.14 L226.40,286.31" fill="none" stroke="#1a7a90" stroke-width="1.5"/><path d="M43.60,232.24 L44.75,231.26 L45.90,230.32 L47.05,229.42 L48.20,228.56 L49.35,227.76 L50.50,227.02 L51.65,226.35 L52.80,225.76 L53.95,225.25 L55.10,224.82 L56.25,224.41 L57.40,224.01 L58.55,223.62 L59.70,223.26 L60.85,222.94 L61.99,222.67 L63.14,222.45 L64.29,222.29 L65.44,222.21 L66.59,222.21 L67.74,222.28 L68.89,222.41 L70.04,222.60 L71.19,222.84 L72.34,223.13 L73.49,223.47 L74.64,223.85 L75.79,224.26 L76.94,224.70 L78.09,225.17 L79.24,225.67 L80.39,226.18 L81.54,226.71 L82.69,227.24 L83.84,227.79 L84.99,228.33 L86.14,228.87 L87.29,229.40 L88.44,229.92 L89.59,230.42 L90.74,230.94 L91.89,231.50 L93.04,232.08 L94.19,232.69 L95.34,233.32 L96.49,233.97 L97.64,234.64 L98.78,235.32 L99.93,236.01 L101.08,236.72 L102.23,237.42 L103.38,238.14 L104.53,238.85 L105.68,239.56 L106.83,240.26 L107.98,240.96 L109.13,241.64 L110.28,242.31 L111.43,242.97 L112.58,243.60 L113.73,244.24 L114.88,244.87 L116.03,245.49 L117.18,246.12 L118.33,246.74 L119.48,247.37 L120.63,247.99 L121.78,248.60 L122.93,249.22 L124.08,249.83 L125.23,250.44 L126.38,251.05 L127.53,251.65 L128.68,252.25 L129.83,252.84 L130.98,253.43 L132.13,254.02 L133.28,254.61 L134.43,255.18 L135.57,255.76 L136.72,256.33 L137.87,256.90 L139.02,257.47 L140.17,258.03 L141.32,258.60 L142.47,259.16 L143.62,259.71 L144.77,260.27 L145.92,260.82 L147.07,261.36 L148.22,261.90 L149.37,262.44 L150.52,262.98 L151.67,263.51 L152.82,264.03 L153.97,264.55 L155.12,265.07 L156.27,265.58 L157.42,266.08 L158.57,266.58 L159.72,267.08 L160.87,267.58 L162.02,268.07 L163.17,268.57 L164.32,269.06 L165.47,269.54 L166.62,270.03 L167.77,270.51 L168.92,270.98 L170.07,271.45 L171.22,271.92 L172.36,272.37 L173.51,272.83 L174.66,273.27 L175.81,273.71 L176.96,274.14 L178.11,274.56 L179.26,274.97 L180.41,275.37 L181.56,275.77 L182.71,276.16 L183.86,276.56 L185.01,276.95 L186.16,277.34 L187.31,277.72 L188.46,278.10 L189.61,278.48 L190.76,278.85 L191.91,279.21 L193.06,279.57 L194.21,279.91 L195.36,280.25 L196.51,280.58 L197.66,280.90 L198.81,281.21 L199.96,281.50 L201.11,281.78 L202.26,282.05 L203.41,282.30 L204.56,282.55 L205.71,282.78 L206.86,283.02 L208.01,283.25 L209.15,283.48 L210.30,283.70 L211.45,283.91 L212.60,284.13 L213.75,284.33 L214.90,284.53 L216.05,284.72 L217.20,284.90 L218.35,285.08 L219.50,285.25 L220.65,285.41 L221.80,285.56 L222.95,285.71 L224.10,285.84 L225.25,285.97 L226.40,286.08" fill="none" stroke="#2a2aa8" stroke-width="1.5"/><line x1="66.2" y1="179" x2="66.2" y2="316" stroke="#111" stroke-width="1.3" stroke-dasharray="3.2,2.6"/><line x1="43.6" y1="316.5" x2="226.4" y2="316.5" stroke="#444" stroke-width="1.0"/><line x1="43.6" y1="178.2" x2="43.6" y2="317" stroke="#222" stroke-width="1.3"/><line x1="41.2" y1="316.5" x2="43.6" y2="316.5" stroke="#222" stroke-width="1.1"/><line x1="41.2" y1="293.4" x2="43.6" y2="293.4" stroke="#222" stroke-width="1.1"/><line x1="41.2" y1="270.4" x2="43.6" y2="270.4" stroke="#222" stroke-width="1.1"/><line x1="41.2" y1="247.3" x2="43.6" y2="247.3" stroke="#222" stroke-width="1.1"/><line x1="41.2" y1="224.3" x2="43.6" y2="224.3" stroke="#222" stroke-width="1.1"/><line x1="41.2" y1="201.2" x2="43.6" y2="201.2" stroke="#222" stroke-width="1.1"/><line x1="41.2" y1="178.2" x2="43.6" y2="178.2" stroke="#222" stroke-width="1.1"/><line x1="43.6" y1="316.5" x2="43.6" y2="318.8" stroke="#222" stroke-width="1.0"/><line x1="89.3" y1="316.5" x2="89.3" y2="318.8" stroke="#222" stroke-width="1.0"/><line x1="135.0" y1="316.5" x2="135.0" y2="318.8" stroke="#222" stroke-width="1.0"/><line x1="180.7" y1="316.5" x2="180.7" y2="318.8" stroke="#222" stroke-width="1.0"/><line x1="226.4" y1="316.5" x2="226.4" y2="318.8" stroke="#222" stroke-width="1.0"/><clipPath id="insclip"><rect x="166.2" y="179" width="61.4" height="63.3"/></clipPath><g clip-path="url(#insclip)"><path d="M166.20,189.38 L166.58,188.66 L166.96,187.96 L167.35,187.28 L167.73,186.64 L168.11,186.05 L168.49,185.52 L168.88,185.06 L169.26,184.68 L169.64,184.34 L170.02,184.01 L170.41,183.68 L170.79,183.37 L171.17,183.07 L171.55,182.79 L171.94,182.53 L172.32,182.30 L172.70,182.10 L173.08,181.93 L173.47,181.80 L173.85,181.71 L174.23,181.66 L174.61,181.66 L174.99,181.67 L175.38,181.70 L175.76,181.74 L176.14,181.78 L176.52,181.84 L176.91,181.90 L177.29,181.98 L177.67,182.06 L178.05,182.14 L178.44,182.24 L178.82,182.33 L179.20,182.43 L179.58,182.54 L179.97,182.64 L180.35,182.75 L180.73,182.86 L181.11,182.97 L181.50,183.08 L181.88,183.20 L182.26,183.33 L182.64,183.47 L183.03,183.63 L183.41,183.79 L183.79,183.97 L184.17,184.15 L184.55,184.35 L184.94,184.55 L185.32,184.76 L185.70,184.98 L186.08,185.20 L186.47,185.43 L186.85,185.66 L187.23,185.89 L187.61,186.13 L188.00,186.37 L188.38,186.62 L188.76,186.86 L189.14,187.10 L189.53,187.35 L189.91,187.59 L190.29,187.83 L190.67,188.06 L191.06,188.30 L191.44,188.53 L191.82,188.75 L192.20,188.97 L192.58,189.18 L192.97,189.39 L193.35,189.59 L193.73,189.79 L194.11,189.99 L194.50,190.20 L194.88,190.40 L195.26,190.60 L195.64,190.80 L196.03,191.00 L196.41,191.20 L196.79,191.40 L197.17,191.60 L197.56,191.80 L197.94,192.00 L198.32,192.19 L198.70,192.39 L199.09,192.59 L199.47,192.79 L199.85,192.98 L200.23,193.18 L200.62,193.38 L201.00,193.57 L201.38,193.77 L201.76,193.97 L202.14,194.16 L202.53,194.36 L202.91,194.55 L203.29,194.74 L203.67,194.94 L204.06,195.13 L204.44,195.32 L204.82,195.52 L205.20,195.71 L205.59,195.90 L205.97,196.09 L206.35,196.28 L206.73,196.48 L207.12,196.67 L207.50,196.86 L207.88,197.04 L208.26,197.23 L208.65,197.42 L209.03,197.61 L209.41,197.80 L209.79,197.99 L210.17,198.17 L210.56,198.36 L210.94,198.55 L211.32,198.73 L211.70,198.92 L212.09,199.10 L212.47,199.29 L212.85,199.47 L213.23,199.65 L213.62,199.84 L214.00,200.02 L214.38,200.20 L214.76,200.38 L215.15,200.56 L215.53,200.74 L215.91,200.92 L216.29,201.10 L216.68,201.28 L217.06,201.46 L217.44,201.64 L217.82,201.82 L218.21,202.00 L218.59,202.17 L218.97,202.35 L219.35,202.53 L219.73,202.70 L220.12,202.88 L220.50,203.05 L220.88,203.23 L221.26,203.40 L221.65,203.57 L222.03,203.75 L222.41,203.92 L222.79,204.09 L223.18,204.27 L223.56,204.44 L223.94,204.61 L224.32,204.78 L224.71,204.95 L225.09,205.12 L225.47,205.29 L225.85,205.46 L226.24,205.63 L226.62,205.80 L227.00,205.97" fill="none" stroke="#a0a028" stroke-width="1.1"/><path d="M166.20,207.36 L166.58,206.77 L166.96,206.20 L167.35,205.65 L167.73,205.13 L168.11,204.65 L168.49,204.22 L168.88,203.85 L169.26,203.55 L169.64,203.28 L170.02,203.01 L170.41,202.75 L170.79,202.51 L171.17,202.27 L171.55,202.05 L171.94,201.84 L172.32,201.66 L172.70,201.50 L173.08,201.37 L173.47,201.27 L173.85,201.20 L174.23,201.16 L174.61,201.16 L174.99,201.17 L175.38,201.18 L175.76,201.21 L176.14,201.24 L176.52,201.28 L176.91,201.33 L177.29,201.37 L177.67,201.43 L178.05,201.49 L178.44,201.55 L178.82,201.61 L179.20,201.67 L179.58,201.74 L179.97,201.80 L180.35,201.87 L180.73,201.93 L181.11,202.00 L181.50,202.06 L181.88,202.12 L182.26,202.18 L182.64,202.24 L183.03,202.31 L183.41,202.37 L183.79,202.44 L184.17,202.51 L184.55,202.58 L184.94,202.65 L185.32,202.72 L185.70,202.80 L186.08,202.88 L186.47,202.95 L186.85,203.03 L187.23,203.11 L187.61,203.19 L188.00,203.27 L188.38,203.36 L188.76,203.44 L189.14,203.53 L189.53,203.62 L189.91,203.70 L190.29,203.79 L190.67,203.88 L191.06,203.98 L191.44,204.07 L191.82,204.16 L192.20,204.26 L192.58,204.35 L192.97,204.45 L193.35,204.55 L193.73,204.65 L194.11,204.76 L194.50,204.86 L194.88,204.97 L195.26,205.09 L195.64,205.20 L196.03,205.32 L196.41,205.44 L196.79,205.56 L197.17,205.68 L197.56,205.81 L197.94,205.93 L198.32,206.06 L198.70,206.19 L199.09,206.33 L199.47,206.46 L199.85,206.59 L200.23,206.73 L200.62,206.87 L201.00,207.01 L201.38,207.14 L201.76,207.29 L202.14,207.43 L202.53,207.57 L202.91,207.71 L203.29,207.85 L203.67,208.00 L204.06,208.14 L204.44,208.28 L204.82,208.43 L205.20,208.57 L205.59,208.71 L205.97,208.86 L206.35,209.00 L206.73,209.14 L207.12,209.29 L207.50,209.43 L207.88,209.57 L208.26,209.71 L208.65,209.85 L209.03,209.99 L209.41,210.13 L209.79,210.26 L210.17,210.40 L210.56,210.53 L210.94,210.66 L211.32,210.79 L211.70,210.92 L212.09,211.05 L212.47,211.18 L212.85,211.30 L213.23,211.43 L213.62,211.55 L214.00,211.67 L214.38,211.80 L214.76,211.92 L215.15,212.04 L215.53,212.17 L215.91,212.29 L216.29,212.41 L216.68,212.53 L217.06,212.65 L217.44,212.78 L217.82,212.90 L218.21,213.02 L218.59,213.14 L218.97,213.26 L219.35,213.38 L219.73,213.50 L220.12,213.62 L220.50,213.74 L220.88,213.85 L221.26,213.97 L221.65,214.09 L222.03,214.21 L222.41,214.33 L222.79,214.44 L223.18,214.56 L223.56,214.68 L223.94,214.79 L224.32,214.91 L224.71,215.02 L225.09,215.14 L225.47,215.26 L225.85,215.37 L226.24,215.49 L226.62,215.60 L227.00,215.71" fill="none" stroke="#f08030" stroke-width="1.1"/><path d="M166.20,225.08 L166.58,224.67 L166.96,224.27 L167.35,223.88 L167.73,223.52 L168.11,223.18 L168.49,222.88 L168.88,222.62 L169.26,222.41 L169.64,222.23 L170.02,222.05 L170.41,221.87 L170.79,221.70 L171.17,221.54 L171.55,221.39 L171.94,221.25 L172.32,221.12 L172.70,221.01 L173.08,220.92 L173.47,220.85 L173.85,220.81 L174.23,220.78 L174.61,220.78 L174.99,220.78 L175.38,220.79 L175.76,220.79 L176.14,220.80 L176.52,220.81 L176.91,220.82 L177.29,220.84 L177.67,220.85 L178.05,220.87 L178.44,220.88 L178.82,220.90 L179.20,220.92 L179.58,220.94 L179.97,220.96 L180.35,220.98 L180.73,221.00 L181.11,221.02 L181.50,221.04 L181.88,221.06 L182.26,221.08 L182.64,221.10 L183.03,221.12 L183.41,221.15 L183.79,221.17 L184.17,221.20 L184.55,221.23 L184.94,221.26 L185.32,221.29 L185.70,221.32 L186.08,221.35 L186.47,221.39 L186.85,221.42 L187.23,221.46 L187.61,221.49 L188.00,221.53 L188.38,221.56 L188.76,221.60 L189.14,221.64 L189.53,221.68 L189.91,221.72 L190.29,221.76 L190.67,221.80 L191.06,221.84 L191.44,221.88 L191.82,221.92 L192.20,221.96 L192.58,222.00 L192.97,222.05 L193.35,222.09 L193.73,222.13 L194.11,222.18 L194.50,222.22 L194.88,222.27 L195.26,222.32 L195.64,222.37 L196.03,222.42 L196.41,222.47 L196.79,222.52 L197.17,222.58 L197.56,222.63 L197.94,222.69 L198.32,222.74 L198.70,222.80 L199.09,222.86 L199.47,222.92 L199.85,222.97 L200.23,223.03 L200.62,223.09 L201.00,223.15 L201.38,223.22 L201.76,223.28 L202.14,223.34 L202.53,223.40 L202.91,223.47 L203.29,223.53 L203.67,223.60 L204.06,223.66 L204.44,223.72 L204.82,223.79 L205.20,223.85 L205.59,223.92 L205.97,223.99 L206.35,224.05 L206.73,224.12 L207.12,224.18 L207.50,224.25 L207.88,224.31 L208.26,224.38 L208.65,224.45 L209.03,224.51 L209.41,224.58 L209.79,224.64 L210.17,224.71 L210.56,224.77 L210.94,224.84 L211.32,224.90 L211.70,224.97 L212.09,225.03 L212.47,225.09 L212.85,225.16 L213.23,225.22 L213.62,225.28 L214.00,225.35 L214.38,225.41 L214.76,225.47 L215.15,225.54 L215.53,225.60 L215.91,225.67 L216.29,225.73 L216.68,225.80 L217.06,225.86 L217.44,225.93 L217.82,225.99 L218.21,226.06 L218.59,226.13 L218.97,226.19 L219.35,226.26 L219.73,226.32 L220.12,226.39 L220.50,226.46 L220.88,226.52 L221.26,226.59 L221.65,226.66 L222.03,226.73 L222.41,226.79 L222.79,226.86 L223.18,226.93 L223.56,227.00 L223.94,227.06 L224.32,227.13 L224.71,227.20 L225.09,227.27 L225.47,227.34 L225.85,227.41 L226.24,227.48 L226.62,227.55 L227.00,227.61" fill="none" stroke="#e02a38" stroke-width="1.1"/><path d="M166.20,237.24 L166.58,236.85 L166.96,236.47 L167.35,236.10 L167.73,235.75 L168.11,235.44 L168.49,235.15 L168.88,234.90 L169.26,234.69 L169.64,234.51 L170.02,234.33 L170.41,234.16 L170.79,233.99 L171.17,233.82 L171.55,233.67 L171.94,233.53 L172.32,233.41 L172.70,233.30 L173.08,233.21 L173.47,233.14 L173.85,233.09 L174.23,233.06 L174.61,233.06 L174.99,233.07 L175.38,233.08 L175.76,233.10 L176.14,233.12 L176.52,233.15 L176.91,233.18 L177.29,233.22 L177.67,233.25 L178.05,233.30 L178.44,233.34 L178.82,233.38 L179.20,233.43 L179.58,233.48 L179.97,233.52 L180.35,233.57 L180.73,233.62 L181.11,233.66 L181.50,233.70 L181.88,233.74 L182.26,233.79 L182.64,233.83 L183.03,233.88 L183.41,233.93 L183.79,233.98 L184.17,234.03 L184.55,234.08 L184.94,234.13 L185.32,234.18 L185.70,234.24 L186.08,234.29 L186.47,234.35 L186.85,234.40 L187.23,234.46 L187.61,234.51 L188.00,234.57 L188.38,234.63 L188.76,234.69 L189.14,234.75 L189.53,234.81 L189.91,234.87 L190.29,234.92 L190.67,234.98 L191.06,235.04 L191.44,235.10 L191.82,235.16 L192.20,235.22 L192.58,235.28 L192.97,235.34 L193.35,235.40 L193.73,235.46 L194.11,235.52 L194.50,235.58 L194.88,235.63 L195.26,235.69 L195.64,235.75 L196.03,235.81 L196.41,235.87 L196.79,235.93 L197.17,235.99 L197.56,236.06 L197.94,236.12 L198.32,236.18 L198.70,236.24 L199.09,236.30 L199.47,236.36 L199.85,236.42 L200.23,236.49 L200.62,236.55 L201.00,236.61 L201.38,236.67 L201.76,236.74 L202.14,236.80 L202.53,236.87 L202.91,236.93 L203.29,236.99 L203.67,237.06 L204.06,237.12 L204.44,237.19 L204.82,237.25 L205.20,237.32 L205.59,237.39 L205.97,237.45 L206.35,237.52 L206.73,237.59 L207.12,237.66 L207.50,237.72 L207.88,237.79 L208.26,237.86 L208.65,237.93 L209.03,238.00 L209.41,238.07 L209.79,238.14 L210.17,238.21 L210.56,238.28 L210.94,238.35 L211.32,238.42 L211.70,238.49 L212.09,238.57 L212.47,238.64 L212.85,238.71 L213.23,238.79 L213.62,238.86 L214.00,238.94 L214.38,239.01 L214.76,239.09 L215.15,239.17 L215.53,239.25 L215.91,239.32 L216.29,239.40 L216.68,239.48 L217.06,239.56 L217.44,239.64 L217.82,239.72 L218.21,239.80 L218.59,239.89 L218.97,239.97 L219.35,240.05 L219.73,240.13 L220.12,240.22 L220.50,240.30 L220.88,240.39 L221.26,240.47 L221.65,240.56 L222.03,240.64 L222.41,240.73 L222.79,240.82 L223.18,240.90 L223.56,240.99 L223.94,241.08 L224.32,241.17 L224.71,241.25 L225.09,241.34 L225.47,241.43 L225.85,241.52 L226.24,241.61 L226.62,241.70 L227.00,241.79" fill="none" stroke="#c8843c" stroke-width="1.1"/></g><line x1="174.1" y1="179" x2="174.1" y2="242.3" stroke="#222" stroke-width="0.8" stroke-dasharray="1.2,1.2"/><rect x="166.2" y="179.1" width="61.4" height="63.2" fill="none" stroke="#333" stroke-width="1"/><line x1="164.4" y1="242.3" x2="166.2" y2="242.3" stroke="#333" stroke-width="0.9"/><line x1="164.4" y1="210.7" x2="166.2" y2="210.7" stroke="#333" stroke-width="0.9"/><line x1="164.4" y1="179.0" x2="166.2" y2="179.0" stroke="#333" stroke-width="0.9"/><line x1="166.2" y1="242.3" x2="166.2" y2="244" stroke="#333" stroke-width="0.9"/><line x1="181.4" y1="242.3" x2="181.4" y2="244" stroke="#333" stroke-width="0.9"/><line x1="196.6" y1="242.3" x2="196.6" y2="244" stroke="#333" stroke-width="0.9"/><line x1="211.8" y1="242.3" x2="211.8" y2="244" stroke="#333" stroke-width="0.9"/><line x1="227.0" y1="242.3" x2="227.0" y2="244" stroke="#333" stroke-width="0.9"/><line x1="243.8" y1="179.7" x2="252.8" y2="179.7" stroke="#404040" stroke-width="1.5"/><line x1="243.8" y1="193.9" x2="252.8" y2="193.9" stroke="#c8903c" stroke-width="1.3"/><line x1="243.8" y1="208.1" x2="252.8" y2="208.1" stroke="#e0303c" stroke-width="1.3"/><line x1="243.8" y1="222.3" x2="252.8" y2="222.3" stroke="#f08038" stroke-width="1.3"/><line x1="243.8" y1="236.5" x2="252.8" y2="236.5" stroke="#a0a030" stroke-width="1.3"/><line x1="243.8" y1="250.7" x2="252.8" y2="250.7" stroke="#189078" stroke-width="1.3"/><line x1="243.8" y1="264.9" x2="252.8" y2="264.9" stroke="#1a7888" stroke-width="1.3"/><line x1="243.8" y1="279.1" x2="252.8" y2="279.1" stroke="#3a3ab0" stroke-width="1.3"/><line x1="243.8" y1="293.3" x2="252.8" y2="293.3" stroke="#6a2a9a" stroke-width="1.3"/><line x1="243.8" y1="307.5" x2="252.8" y2="307.5" stroke="#902a90" stroke-width="1.3"/><line x1="243.8" y1="321.7" x2="252.8" y2="321.7" stroke="#e0306e" stroke-width="1.3"/>
<line x1="355" y1="312.3" x2="510.5" y2="312.3" stroke="#111" stroke-width="1.6" stroke-dasharray="4.2,2.6"/><path d="M353.60,300.07 L354.39,299.98 L355.18,299.89 L355.97,299.80 L356.75,299.71 L357.54,299.61 L358.33,299.51 L359.12,299.41 L359.91,299.31 L360.70,299.21 L361.48,299.10 L362.27,298.99 L363.06,298.88 L363.85,298.77 L364.64,298.66 L365.43,298.54 L366.22,298.42 L367.00,298.31 L367.79,298.19 L368.58,298.06 L369.37,297.94 L370.16,297.81 L370.95,297.69 L371.73,297.56 L372.52,297.43 L373.31,297.30 L374.10,297.17 L374.89,297.04 L375.68,296.90 L376.46,296.76 L377.25,296.62 L378.04,296.48 L378.83,296.34 L379.62,296.19 L380.41,296.04 L381.20,295.89 L381.98,295.73 L382.77,295.57 L383.56,295.41 L384.35,295.25 L385.14,295.07 L385.93,294.90 L386.71,294.72 L387.50,294.54 L388.29,294.35 L389.08,294.16 L389.87,293.96 L390.66,293.76 L391.45,293.56 L392.23,293.34 L393.02,293.13 L393.81,292.90 L394.60,292.67 L395.39,292.43 L396.18,292.18 L396.96,291.92 L397.75,291.66 L398.54,291.38 L399.33,291.10 L400.12,290.80 L400.91,290.49 L401.69,290.17 L402.48,289.84 L403.27,289.49 L404.06,289.14 L404.85,288.76 L405.64,288.38 L406.43,287.97 L407.21,287.51 L408.00,287.01 L408.79,286.47 L409.58,285.90 L410.37,285.29 L411.16,284.66 L411.94,284.00 L412.73,283.32 L413.52,282.62 L414.31,281.91 L415.10,281.20 L415.89,280.47 L416.68,279.75 L417.46,279.02 L418.25,278.28 L419.04,277.51 L419.83,276.71 L420.62,275.89 L421.41,275.04 L422.19,274.18 L422.98,273.32 L423.77,272.43 L424.56,271.54 L425.35,270.62 L426.14,269.68 L426.93,268.73 L427.71,267.76 L428.50,266.77 L429.29,265.76 L430.08,264.75 L430.87,263.72 L431.66,262.69 L432.44,261.65 L433.23,260.60 L434.02,259.54 L434.81,258.47 L435.60,257.39 L436.39,256.29 L437.17,255.18 L437.96,254.06 L438.75,252.92 L439.54,251.76 L440.33,250.59 L441.12,249.41 L441.91,248.20 L442.69,246.98 L443.48,245.74 L444.27,244.46 L445.06,243.14 L445.85,241.77 L446.64,240.36 L447.42,238.92 L448.21,237.46 L449.00,235.99 L449.79,234.51 L450.58,233.02 L451.37,231.54 L452.16,230.08 L452.94,228.63 L453.73,227.22 L454.52,225.84 L455.31,224.49 L456.10,223.17 L456.89,221.86 L457.67,220.56 L458.46,219.28 L459.25,218.01 L460.04,216.76 L460.83,215.53 L461.62,214.31 L462.41,213.11 L463.19,211.91 L463.98,210.70 L464.77,209.50 L465.56,208.32 L466.35,207.17 L467.14,206.06 L467.92,205.01 L468.71,204.01 L469.50,203.09 L470.29,202.20 L471.08,201.33 L471.87,200.49 L472.65,199.68 L473.44,198.91 L474.23,198.19 L475.02,197.53 L475.81,196.92 L476.60,196.38 L477.39,195.87 L478.17,195.37 L478.96,194.90 L479.75,194.45 L480.54,194.05 L481.33,193.68 L482.12,193.35 L482.90,193.07 L483.69,192.84 L484.48,192.63 L485.27,192.44 L486.06,192.26 L486.85,192.10 L487.64,191.95 L488.42,191.82 L489.21,191.71 L490.00,191.61 L490.79,191.53 L491.58,191.45 L492.37,191.38 L493.15,191.31 L493.94,191.24 L494.73,191.19 L495.52,191.14 L496.31,191.11 L497.10,191.09 L497.88,191.08 L498.67,191.08 L499.46,191.08 L500.25,191.08 L501.04,191.08 L501.83,191.08 L502.62,191.08 L503.40,191.08 L504.19,191.08 L504.98,191.08 L505.77,191.08 L506.56,191.08 L507.35,191.08 L508.13,191.08 L508.92,191.08 L509.71,191.08 L510.50,191.08" fill="none" stroke="#000" stroke-width="1.5"/><path d="M353.60,315.74 L354.39,315.74 L355.18,315.74 L355.97,315.74 L356.75,315.74 L357.54,315.74 L358.33,315.74 L359.12,315.74 L359.91,315.73 L360.70,315.73 L361.48,315.73 L362.27,315.73 L363.06,315.73 L363.85,315.72 L364.64,315.72 L365.43,315.72 L366.22,315.72 L367.00,315.71 L367.79,315.71 L368.58,315.71 L369.37,315.70 L370.16,315.70 L370.95,315.70 L371.73,315.69 L372.52,315.69 L373.31,315.68 L374.10,315.68 L374.89,315.68 L375.68,315.67 L376.46,315.67 L377.25,315.66 L378.04,315.66 L378.83,315.66 L379.62,315.65 L380.41,315.65 L381.20,315.64 L381.98,315.64 L382.77,315.63 L383.56,315.62 L384.35,315.62 L385.14,315.61 L385.93,315.60 L386.71,315.60 L387.50,315.59 L388.29,315.58 L389.08,315.57 L389.87,315.56 L390.66,315.55 L391.45,315.54 L392.23,315.53 L393.02,315.52 L393.81,315.51 L394.60,315.50 L395.39,315.49 L396.18,315.48 L396.96,315.46 L397.75,315.45 L398.54,315.44 L399.33,315.42 L400.12,315.41 L400.91,315.39 L401.69,315.38 L402.48,315.36 L403.27,315.34 L404.06,315.33 L404.85,315.31 L405.64,315.29 L406.43,315.27 L407.21,315.25 L408.00,315.22 L408.79,315.19 L409.58,315.16 L410.37,315.13 L411.16,315.09 L411.94,315.05 L412.73,315.01 L413.52,314.96 L414.31,314.91 L415.10,314.86 L415.89,314.81 L416.68,314.75 L417.46,314.69 L418.25,314.63 L419.04,314.57 L419.83,314.50 L420.62,314.44 L421.41,314.36 L422.19,314.29 L422.98,314.22 L423.77,314.14 L424.56,314.06 L425.35,313.98 L426.14,313.89 L426.93,313.81 L427.71,313.72 L428.50,313.63 L429.29,313.54 L430.08,313.44 L430.87,313.34 L431.66,313.23 L432.44,313.11 L433.23,312.97 L434.02,312.83 L434.81,312.68 L435.60,312.51 L436.39,312.33 L437.17,312.14 L437.96,311.94 L438.75,311.73 L439.54,311.51 L440.33,311.27 L441.12,311.03 L441.91,310.76 L442.69,310.46 L443.48,310.12 L444.27,309.75 L445.06,309.34 L445.85,308.90 L446.64,308.42 L447.42,307.92 L448.21,307.38 L449.00,306.82 L449.79,306.23 L450.58,305.61 L451.37,304.97 L452.16,304.31 L452.94,303.61 L453.73,302.83 L454.52,301.94 L455.31,300.96 L456.10,299.90 L456.89,298.78 L457.67,297.62 L458.46,296.41 L459.25,295.13 L460.04,293.74 L460.83,292.26 L461.62,290.71 L462.41,289.10 L463.19,287.45 L463.98,285.77 L464.77,284.04 L465.56,282.23 L466.35,280.36 L467.14,278.43 L467.92,276.46 L468.71,274.49 L469.50,272.51 L470.29,270.57 L471.08,268.65 L471.87,266.73 L472.65,264.76 L473.44,262.70 L474.23,260.51 L475.02,258.12 L475.81,255.53 L476.60,252.81 L477.39,250.02 L478.17,247.24 L478.96,244.53 L479.75,241.72 L480.54,238.77 L481.33,235.85 L482.12,233.14 L482.90,230.80 L483.69,228.98 L484.48,227.44 L485.27,226.08 L486.06,224.87 L486.85,223.78 L487.64,222.78 L488.42,221.82 L489.21,220.87 L490.00,220.00 L490.79,219.27 L491.58,218.75 L492.37,218.47 L493.15,218.24 L493.94,218.03 L494.73,217.84 L495.52,217.67 L496.31,217.53 L497.10,217.41 L497.88,217.32 L498.67,217.25 L499.46,217.22 L500.25,217.21 L501.04,217.21 L501.83,217.21 L502.62,217.21 L503.40,217.21 L504.19,217.21 L504.98,217.21 L505.77,217.21 L506.56,217.21 L507.35,217.21 L508.13,217.21 L508.92,217.21 L509.71,217.21 L510.50,217.21" fill="none" stroke="#0a0ae6" stroke-width="1.6"/><path d="M353.6,178.7 L353.6,316.7 L510.5,316.7" fill="none" stroke="#111" stroke-width="1.2"/><line x1="510.5" y1="178.7" x2="510.5" y2="316.7" stroke="#111" stroke-width="1.2"/><line x1="351" y1="316.2" x2="353.6" y2="316.2" stroke="#111" stroke-width="1.1"/><line x1="510.5" y1="316.2" x2="513.1" y2="316.2" stroke="#111" stroke-width="1.1"/><line x1="351" y1="288.7" x2="353.6" y2="288.7" stroke="#111" stroke-width="1.1"/><line x1="510.5" y1="288.7" x2="513.1" y2="288.7" stroke="#111" stroke-width="1.1"/><line x1="351" y1="261.2" x2="353.6" y2="261.2" stroke="#111" stroke-width="1.1"/><line x1="510.5" y1="261.2" x2="513.1" y2="261.2" stroke="#111" stroke-width="1.1"/><line x1="351" y1="233.7" x2="353.6" y2="233.7" stroke="#111" stroke-width="1.1"/><line x1="510.5" y1="233.7" x2="513.1" y2="233.7" stroke="#111" stroke-width="1.1"/><line x1="351" y1="206.2" x2="353.6" y2="206.2" stroke="#111" stroke-width="1.1"/><line x1="510.5" y1="206.2" x2="513.1" y2="206.2" stroke="#111" stroke-width="1.1"/><line x1="351" y1="178.7" x2="353.6" y2="178.7" stroke="#111" stroke-width="1.1"/><line x1="510.5" y1="178.7" x2="513.1" y2="178.7" stroke="#111" stroke-width="1.1"/><line x1="353.6" y1="316.7" x2="353.6" y2="319.2" stroke="#111" stroke-width="1.1"/><line x1="405.9" y1="316.7" x2="405.9" y2="319.2" stroke="#111" stroke-width="1.1"/><line x1="458.2" y1="316.7" x2="458.2" y2="319.2" stroke="#111" stroke-width="1.1"/><line x1="510.5" y1="316.7" x2="510.5" y2="319.2" stroke="#111" stroke-width="1.1"/><line x1="369.3" y1="316.7" x2="369.3" y2="318.3" stroke="#111" stroke-width="0.8"/><line x1="378.6" y1="316.7" x2="378.6" y2="318.3" stroke="#111" stroke-width="0.8"/><line x1="385.1" y1="316.7" x2="385.1" y2="318.3" stroke="#111" stroke-width="0.8"/><line x1="390.2" y1="316.7" x2="390.2" y2="318.3" stroke="#111" stroke-width="0.8"/><line x1="394.3" y1="316.7" x2="394.3" y2="318.3" stroke="#111" stroke-width="0.8"/><line x1="397.8" y1="316.7" x2="397.8" y2="318.3" stroke="#111" stroke-width="0.8"/><line x1="400.8" y1="316.7" x2="400.8" y2="318.3" stroke="#111" stroke-width="0.8"/><line x1="403.5" y1="316.7" x2="403.5" y2="318.3" stroke="#111" stroke-width="0.8"/><line x1="421.6" y1="316.7" x2="421.6" y2="318.3" stroke="#111" stroke-width="0.8"/><line x1="430.9" y1="316.7" x2="430.9" y2="318.3" stroke="#111" stroke-width="0.8"/><line x1="437.4" y1="316.7" x2="437.4" y2="318.3" stroke="#111" stroke-width="0.8"/><line x1="442.5" y1="316.7" x2="442.5" y2="318.3" stroke="#111" stroke-width="0.8"/><line x1="446.6" y1="316.7" x2="446.6" y2="318.3" stroke="#111" stroke-width="0.8"/><line x1="450.1" y1="316.7" x2="450.1" y2="318.3" stroke="#111" stroke-width="0.8"/><line x1="453.1" y1="316.7" x2="453.1" y2="318.3" stroke="#111" stroke-width="0.8"/><line x1="455.8" y1="316.7" x2="455.8" y2="318.3" stroke="#111" stroke-width="0.8"/><line x1="473.9" y1="316.7" x2="473.9" y2="318.3" stroke="#111" stroke-width="0.8"/><line x1="483.2" y1="316.7" x2="483.2" y2="318.3" stroke="#111" stroke-width="0.8"/><line x1="489.7" y1="316.7" x2="489.7" y2="318.3" stroke="#111" stroke-width="0.8"/><line x1="494.8" y1="316.7" x2="494.8" y2="318.3" stroke="#111" stroke-width="0.8"/><line x1="498.9" y1="316.7" x2="498.9" y2="318.3" stroke="#111" stroke-width="0.8"/><line x1="502.4" y1="316.7" x2="502.4" y2="318.3" stroke="#111" stroke-width="0.8"/><line x1="505.4" y1="316.7" x2="505.4" y2="318.3" stroke="#111" stroke-width="0.8"/><line x1="508.1" y1="316.7" x2="508.1" y2="318.3" stroke="#111" stroke-width="0.8"/><rect x="351.2" y="299.1" width="4.8" height="4.8" fill="#fff" stroke="#000" stroke-width="1.1"/><rect x="366.9" y="294.1" width="4.8" height="4.8" fill="#fff" stroke="#000" stroke-width="1.1"/><rect x="387.8" y="288.1" width="4.8" height="4.8" fill="#fff" stroke="#000" stroke-width="1.1"/><rect x="403.5" y="280.8" width="4.8" height="4.8" fill="#fff" stroke="#000" stroke-width="1.1"/><rect x="419.2" y="266.6" width="4.8" height="4.8" fill="#fff" stroke="#000" stroke-width="1.1"/><rect x="440.1" y="243.2" width="4.8" height="4.8" fill="#fff" stroke="#000" stroke-width="1.1"/><rect x="455.8" y="219.8" width="4.8" height="4.8" fill="#fff" stroke="#000" stroke-width="1.1"/><rect x="471.5" y="200.6" width="4.8" height="4.8" fill="#fff" stroke="#000" stroke-width="1.1"/><rect x="492.4" y="189.6" width="4.8" height="4.8" fill="#fff" stroke="#000" stroke-width="1.1"/><rect x="508.1" y="184.1" width="4.8" height="4.8" fill="#fff" stroke="#000" stroke-width="1.1"/><rect x="351.0" y="313.1" width="5.2" height="5.2" fill="#000"/><rect x="366.7" y="313.1" width="5.2" height="5.2" fill="#000"/><rect x="387.6" y="312.9" width="5.2" height="5.2" fill="#000"/><rect x="403.3" y="313.1" width="5.2" height="5.2" fill="#000"/><rect x="419.0" y="312.9" width="5.2" height="5.2" fill="#000"/><rect x="439.9" y="309.5" width="5.2" height="5.2" fill="#000"/><rect x="455.6" y="293.9" width="5.2" height="5.2" fill="#000"/><rect x="471.3" y="258.1" width="5.2" height="5.2" fill="#000"/><rect x="492.2" y="215.1" width="5.2" height="5.2" fill="#000"/><rect x="507.9" y="214.6" width="5.2" height="5.2" fill="#000"/><line x1="364" y1="190.8" x2="373.6" y2="190.8" stroke="#000" stroke-width="1.3"/><rect x="367.0" y="188.9" width="3.8" height="3.8" fill="#fff" stroke="#000" stroke-width="1.0"/><line x1="364" y1="205.7" x2="373.6" y2="205.7" stroke="#0a0ae6" stroke-width="1.4"/><rect x="366.6" y="203.5" width="4.6" height="4.6" fill="#000"/>
<text x="8.3" y="17.3" font-size="17" text-anchor="start" fill="#000" stroke="#000" >a</text><text x="51.3" y="15.3" font-size="10.5" text-anchor="middle" fill="#000" stroke="#000" >0</text><text x="97.3" y="15.3" font-size="10.5" text-anchor="middle" fill="#000" stroke="#000" >0.01</text><text x="143" y="15.3" font-size="10.5" text-anchor="middle" fill="#000" stroke="#000" >0.02</text><text x="187" y="15.3" font-size="10.5" text-anchor="middle" fill="#000" stroke="#000" >0.05</text><text x="233.4" y="15.3" font-size="10.5" text-anchor="middle" fill="#000" stroke="#000" >0.1</text><text x="276.8" y="15.3" font-size="10.5" text-anchor="middle" fill="#000" stroke="#000" >0.2</text><text x="320.8" y="15.3" font-size="10.5" text-anchor="middle" fill="#000" stroke="#000" >0.5</text><text x="364.2" y="15.3" font-size="10.5" text-anchor="middle" fill="#000" stroke="#000" >1</text><text x="406.8" y="15.3" font-size="10.5" text-anchor="middle" fill="#000" stroke="#000" >2</text><text x="451.7" y="15.3" font-size="10.5" text-anchor="middle" fill="#000" stroke="#000" >5</text><text x="489.3" y="15.3" font-size="10.5" text-anchor="middle" fill="#000" stroke="#000" >10</text><text x="505" y="15.3" font-size="10.5" text-anchor="start" fill="#000" stroke="#000" >(mg/ml)</text><text transform="translate(22.9,54) rotate(-90)" font-size="10.5" text-anchor="middle" stroke="#000">Tollens</text><text transform="translate(22.9,122) rotate(-90)" font-size="10.5" text-anchor="middle" stroke="#000">DNS</text><text x="40.3" y="319.5" font-size="10" text-anchor="end" fill="#000" stroke="#000" >0.0</text><text x="40.3" y="296.45" font-size="10" text-anchor="end" fill="#000" stroke="#000" >0.5</text><text x="40.3" y="273.4" font-size="10" text-anchor="end" fill="#000" stroke="#000" >1.0</text><text x="40.3" y="250.35" font-size="10" text-anchor="end" fill="#000" stroke="#000" >1.5</text><text x="40.3" y="227.3" font-size="10" text-anchor="end" fill="#000" stroke="#000" >2.0</text><text x="40.3" y="204.25" font-size="10" text-anchor="end" fill="#000" stroke="#000" >2.5</text><text x="40.3" y="181.2" font-size="10" text-anchor="end" fill="#000" stroke="#000" >3.0</text><text x="43.6" y="328.6" font-size="10" text-anchor="middle" fill="#000" stroke="#000" >400</text><text x="89.30000000000001" y="328.6" font-size="10" text-anchor="middle" fill="#000" stroke="#000" >450</text><text x="135.0" y="328.6" font-size="10" text-anchor="middle" fill="#000" stroke="#000" >500</text><text x="180.7" y="328.6" font-size="10" text-anchor="middle" fill="#000" stroke="#000" >550</text><text x="226.4" y="328.6" font-size="10" text-anchor="middle" fill="#000" stroke="#000" >600</text><text x="134.8" y="342.8" font-size="9.9" text-anchor="middle" fill="#000" stroke="#000" >Wavelength (nm)</text><text transform="translate(22.3,244.7) rotate(-90)" font-size="10.1" text-anchor="middle" stroke="#000">Absorbance</text><text x="65.4" y="177.5" font-size="9.6" text-anchor="middle" fill="#000" stroke="#000" >426 nm</text><text x="163.8" y="244.70000000000002" font-size="6.8" text-anchor="end" fill="#000" stroke="#000" stroke-width="0.08" >0.25</text><text x="163.8" y="213.05" font-size="6.8" text-anchor="end" fill="#000" stroke="#000" stroke-width="0.08" >0.50</text><text x="163.8" y="181.4" font-size="6.8" text-anchor="end" fill="#000" stroke="#000" stroke-width="0.08" >0.75</text><text x="166.2" y="251.8" font-size="6.8" text-anchor="middle" fill="#000" stroke="#000" stroke-width="0.08" >400</text><text x="181.39999999999998" y="251.8" font-size="6.8" text-anchor="middle" fill="#000" stroke="#000" stroke-width="0.08" >450</text><text x="196.6" y="251.8" font-size="6.8" text-anchor="middle" fill="#000" stroke="#000" stroke-width="0.08" >500</text><text x="211.79999999999998" y="251.8" font-size="6.8" text-anchor="middle" fill="#000" stroke="#000" stroke-width="0.08" >550</text><text x="227.0" y="251.8" font-size="6.8" text-anchor="middle" fill="#000" stroke="#000" stroke-width="0.08" >600</text><text x="193" y="260.6" font-size="6.6" text-anchor="middle" fill="#000" stroke="#000" stroke-width="0.08" >Wavelength (nm)</text><text transform="translate(147.8,210) rotate(-90)" font-size="6.8" text-anchor="middle" stroke="#000" stroke-width="0.08">Absorbance</text><text x="179" y="176.4" font-size="6.8" text-anchor="middle" fill="#000" stroke="#000" stroke-width="0.08" >426 nm</text><text x="257.6" y="183.1" font-size="9.7" text-anchor="start" fill="#000" stroke="#000" >0 mg/ml</text><text x="257.6" y="197.29999999999998" font-size="9.7" text-anchor="start" fill="#000" stroke="#000" >0.01 mg/ml</text><text x="257.6" y="211.5" font-size="9.7" text-anchor="start" fill="#000" stroke="#000" >0.02 mg/ml</text><text x="257.6" y="225.7" font-size="9.7" text-anchor="start" fill="#000" stroke="#000" >0.05 mg/ml</text><text x="257.6" y="239.9" font-size="9.7" text-anchor="start" fill="#000" stroke="#000" >0.1 mg/ml</text><text x="257.6" y="254.1" font-size="9.7" text-anchor="start" fill="#000" stroke="#000" >0.2 mg/ml</text><text x="257.6" y="268.29999999999995" font-size="9.7" text-anchor="start" fill="#000" stroke="#000" >0.5 mg/ml</text><text x="257.6" y="282.49999999999994" font-size="9.7" text-anchor="start" fill="#000" stroke="#000" >1 mg/ml</text><text x="257.6" y="296.69999999999993" font-size="9.7" text-anchor="start" fill="#000" stroke="#000" >2 mg/ml</text><text x="257.6" y="310.9" font-size="9.7" text-anchor="start" fill="#000" stroke="#000" >5 mg/ml</text><text x="257.6" y="325.09999999999997" font-size="9.7" text-anchor="start" fill="#000" stroke="#000" >10 mg/ml</text><text x="349.4" y="319.5" font-size="10" text-anchor="end" fill="#000" stroke="#000" >0.0</text><text x="515.0" y="319.5" font-size="10" text-anchor="start" fill="#1414f0" stroke="#1414f0" >0.0</text><text x="349.4" y="292.002" font-size="10" text-anchor="end" fill="#000" stroke="#000" >0.6</text><text x="515.0" y="292.002" font-size="10" text-anchor="start" fill="#1414f0" stroke="#1414f0" >0.6</text><text x="349.4" y="264.504" font-size="10" text-anchor="end" fill="#000" stroke="#000" >1.2</text><text x="515.0" y="264.504" font-size="10" text-anchor="start" fill="#1414f0" stroke="#1414f0" >1.2</text><text x="349.4" y="237.006" font-size="10" text-anchor="end" fill="#000" stroke="#000" >1.8</text><text x="515.0" y="237.006" font-size="10" text-anchor="start" fill="#1414f0" stroke="#1414f0" >1.8</text><text x="349.4" y="209.508" font-size="10" text-anchor="end" fill="#000" stroke="#000" >2.4</text><text x="515.0" y="209.508" font-size="10" text-anchor="start" fill="#1414f0" stroke="#1414f0" >2.4</text><text x="349.4" y="182.01" font-size="10" text-anchor="end" fill="#000" stroke="#000" >3.0</text><text x="515.0" y="182.01" font-size="10" text-anchor="start" fill="#1414f0" stroke="#1414f0" >3.0</text><text x="353.6" y="329.8" font-size="10" text-anchor="middle" fill="#000" stroke="#000" >0.01</text><text x="405.90000000000003" y="329.8" font-size="10" text-anchor="middle" fill="#000" stroke="#000" >0.1</text><text x="458.20000000000005" y="329.8" font-size="10" text-anchor="middle" fill="#000" stroke="#000" >1</text><text x="510.5" y="329.8" font-size="10" text-anchor="middle" fill="#000" stroke="#000" >10</text><text x="431.2" y="341.6" font-size="10" text-anchor="middle" fill="#000" stroke="#000" >SCG concentration (mg/ml)</text><text transform="translate(329.3,245.2) rotate(-90)" font-size="9.9" text-anchor="middle" stroke="#000">Absorbance at 426 nm</text><text transform="translate(534.6,245.7) rotate(90)" font-size="9.6" text-anchor="middle" fill="#1414f0" stroke="#1414f0">Absorbance at 540 nm</text><text x="317.5" y="179.5" font-size="17" text-anchor="start" fill="#000" stroke="#000" >c</text><text x="380.3" y="194.3" font-size="9.8" text-anchor="start" fill="#000" stroke="#000" >Tollens</text><text x="380.3" y="209.2" font-size="9.8" text-anchor="start" fill="#000" stroke="#000" >DNS</text><text x="7.9" y="179.9" font-size="17.3" text-anchor="start" fill="#000" stroke="#000" >b</text>
</svg>
</body></html>
